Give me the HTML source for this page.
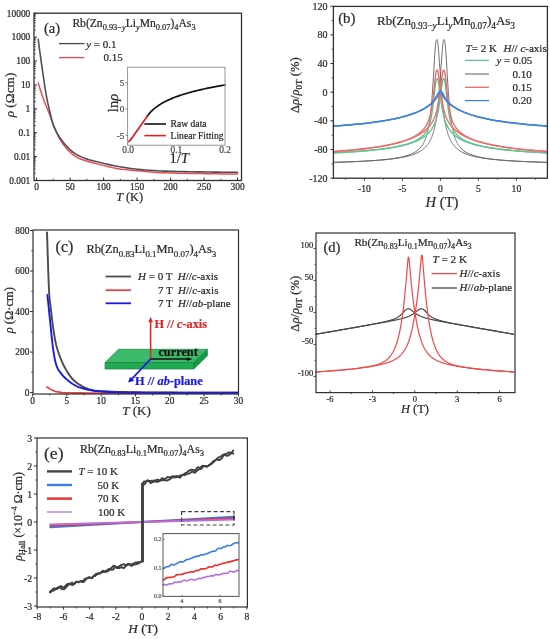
<!DOCTYPE html>
<html><head><meta charset="utf-8"><title>Figure</title>
<style>html,body{margin:0;padding:0;background:#fff;overflow:hidden;} svg{display:block;} text{white-space:pre;}</style>
</head><body>
<svg width="550" height="639" viewBox="0 0 550 639" font-family="'Liberation Serif', serif"><path d="M38.2,82.9 L38.81,84.9 L39.41,86.86 L40.02,88.78 L40.62,90.67 L41.23,92.52 L41.83,94.33 L42.44,96.11 L43.05,97.85 L43.65,99.54 L44.26,101.2 L44.86,102.78 L45.47,104.31 L46.08,105.8 L46.68,107.27 L47.29,108.74 L47.89,110.22 L48.5,111.73 L49.1,113.29 L49.71,114.91 L50.32,116.56 L50.92,118.22 L51.53,119.88 L52.13,121.52 L52.74,123.1 L53.34,124.62 L53.95,126.09 L54.56,127.56 L55.16,129.02 L55.77,130.47 L56.37,131.9 L56.98,133.29 L57.59,134.65 L58.19,135.94 L58.8,137.17 L59.4,138.33 L60.01,139.4 L60.61,140.38 L61.22,141.31 L61.83,142.21 L62.43,143.09 L63.04,143.94 L63.64,144.77 L64.25,145.57 L64.86,146.35 L65.46,147.1 L66.07,147.83 L66.67,148.54 L67.28,149.23 L67.88,149.88 L68.49,150.52 L69.1,151.13 L69.7,151.73 L70.31,152.29 L70.91,152.84 L71.52,153.36 L72.12,153.86 L72.73,154.34 L73.34,154.8 L73.94,155.25 L74.55,155.69 L75.15,156.1 L75.76,156.5 L76.37,156.89 L76.97,157.25 L77.58,157.6 L78.18,157.93 L78.79,158.24 L79.39,158.53 L80,158.8 L81,159.21 L85.02,160.58 L89.03,161.73 L93.05,162.84 L97.06,163.88 L101.08,164.86 L105.09,165.86 L109.11,166.85 L113.12,167.76 L117.14,168.55 L121.15,169.15 L125.17,169.63 L129.18,170.04 L133.2,170.41 L137.22,170.76 L141.23,171.11 L145.25,171.49 L149.26,171.86 L153.28,172.19 L157.29,172.47 L161.31,172.65 L165.32,172.8 L169.34,172.94 L173.35,173.06 L177.37,173.16 L181.38,173.26 L185.4,173.35 L189.42,173.43 L193.43,173.5 L197.45,173.56 L201.46,173.62 L205.48,173.68 L209.49,173.74 L213.51,173.79 L217.52,173.84 L221.54,173.88 L225.55,173.92 L229.57,173.95 L233.58,173.98 L237.6,174" fill="none" stroke="#ee4a52" stroke-width="1.5" stroke-linejoin="round" stroke-linecap="round" />
<path d="M38.2,39.4 L38.81,44 L39.41,48.54 L40.02,53 L40.62,57.4 L41.23,61.71 L41.83,65.94 L42.44,70.17 L43.05,74.42 L43.65,78.62 L44.26,82.73 L44.86,86.7 L45.47,90.48 L46.08,94.02 L46.68,97.28 L47.29,100.37 L47.89,103.3 L48.5,106.11 L49.1,108.8 L49.71,111.38 L50.32,113.88 L50.92,116.3 L51.53,118.68 L52.13,121.03 L52.74,123.21 L53.34,125.09 L53.95,126.63 L54.56,128.06 L55.16,129.41 L55.77,130.67 L56.37,131.85 L56.98,132.97 L57.59,134.03 L58.19,135.03 L58.8,135.99 L59.4,136.91 L60.01,137.8 L60.61,138.66 L61.22,139.5 L61.83,140.33 L62.43,141.13 L63.04,141.92 L63.64,142.69 L64.25,143.44 L64.86,144.16 L65.46,144.87 L66.07,145.56 L66.67,146.23 L67.28,146.88 L67.88,147.51 L68.49,148.12 L69.1,148.71 L69.7,149.28 L70.31,149.83 L70.91,150.36 L71.52,150.87 L72.12,151.36 L72.73,151.83 L73.34,152.29 L73.94,152.73 L74.55,153.15 L75.15,153.56 L75.76,153.95 L76.37,154.33 L76.97,154.7 L77.58,155.05 L78.18,155.38 L78.79,155.7 L79.39,156.01 L80,156.3 L81,156.76 L85.02,158.37 L89.03,159.71 L93.05,160.84 L97.06,161.82 L101.08,162.75 L105.09,163.69 L109.11,164.62 L113.12,165.5 L117.14,166.29 L121.15,166.99 L125.17,167.63 L129.18,168.22 L133.2,168.76 L137.22,169.22 L141.23,169.61 L145.25,169.96 L149.26,170.28 L153.28,170.55 L157.29,170.78 L161.31,170.95 L165.32,171.09 L169.34,171.23 L173.35,171.35 L177.37,171.45 L181.38,171.55 L185.4,171.64 L189.42,171.72 L193.43,171.79 L197.45,171.86 L201.46,171.92 L205.48,171.98 L209.49,172.04 L213.51,172.09 L217.52,172.14 L221.54,172.18 L225.55,172.22 L229.57,172.25 L233.58,172.28 L237.6,172.3" fill="none" stroke="#4a5252" stroke-width="1.6" stroke-linejoin="round" stroke-linecap="round" />
<rect x="34" y="13.2" width="207.5" height="167.3" fill="none" stroke="#303030" stroke-width="1.3" />
<line x1="34" y1="180.46" x2="37" y2="180.46" stroke="#303030" stroke-width="1" />
<line x1="34" y1="173.27" x2="35.8" y2="173.27" stroke="#303030" stroke-width="0.8" />
<line x1="34" y1="169.07" x2="35.8" y2="169.07" stroke="#303030" stroke-width="0.8" />
<line x1="34" y1="166.08" x2="35.8" y2="166.08" stroke="#303030" stroke-width="0.8" />
<line x1="34" y1="163.77" x2="35.8" y2="163.77" stroke="#303030" stroke-width="0.8" />
<line x1="34" y1="161.88" x2="35.8" y2="161.88" stroke="#303030" stroke-width="0.8" />
<line x1="34" y1="160.28" x2="35.8" y2="160.28" stroke="#303030" stroke-width="0.8" />
<line x1="34" y1="158.89" x2="35.8" y2="158.89" stroke="#303030" stroke-width="0.8" />
<line x1="34" y1="157.67" x2="35.8" y2="157.67" stroke="#303030" stroke-width="0.8" />
<line x1="34" y1="156.58" x2="37" y2="156.58" stroke="#303030" stroke-width="1" />
<line x1="34" y1="149.39" x2="35.8" y2="149.39" stroke="#303030" stroke-width="0.8" />
<line x1="34" y1="145.19" x2="35.8" y2="145.19" stroke="#303030" stroke-width="0.8" />
<line x1="34" y1="142.2" x2="35.8" y2="142.2" stroke="#303030" stroke-width="0.8" />
<line x1="34" y1="139.89" x2="35.8" y2="139.89" stroke="#303030" stroke-width="0.8" />
<line x1="34" y1="138" x2="35.8" y2="138" stroke="#303030" stroke-width="0.8" />
<line x1="34" y1="136.4" x2="35.8" y2="136.4" stroke="#303030" stroke-width="0.8" />
<line x1="34" y1="135.01" x2="35.8" y2="135.01" stroke="#303030" stroke-width="0.8" />
<line x1="34" y1="133.79" x2="35.8" y2="133.79" stroke="#303030" stroke-width="0.8" />
<line x1="34" y1="132.7" x2="37" y2="132.7" stroke="#303030" stroke-width="1" />
<line x1="34" y1="125.51" x2="35.8" y2="125.51" stroke="#303030" stroke-width="0.8" />
<line x1="34" y1="121.31" x2="35.8" y2="121.31" stroke="#303030" stroke-width="0.8" />
<line x1="34" y1="118.32" x2="35.8" y2="118.32" stroke="#303030" stroke-width="0.8" />
<line x1="34" y1="116.01" x2="35.8" y2="116.01" stroke="#303030" stroke-width="0.8" />
<line x1="34" y1="114.12" x2="35.8" y2="114.12" stroke="#303030" stroke-width="0.8" />
<line x1="34" y1="112.52" x2="35.8" y2="112.52" stroke="#303030" stroke-width="0.8" />
<line x1="34" y1="111.13" x2="35.8" y2="111.13" stroke="#303030" stroke-width="0.8" />
<line x1="34" y1="109.91" x2="35.8" y2="109.91" stroke="#303030" stroke-width="0.8" />
<line x1="34" y1="108.82" x2="37" y2="108.82" stroke="#303030" stroke-width="1" />
<line x1="34" y1="101.63" x2="35.8" y2="101.63" stroke="#303030" stroke-width="0.8" />
<line x1="34" y1="97.43" x2="35.8" y2="97.43" stroke="#303030" stroke-width="0.8" />
<line x1="34" y1="94.44" x2="35.8" y2="94.44" stroke="#303030" stroke-width="0.8" />
<line x1="34" y1="92.13" x2="35.8" y2="92.13" stroke="#303030" stroke-width="0.8" />
<line x1="34" y1="90.24" x2="35.8" y2="90.24" stroke="#303030" stroke-width="0.8" />
<line x1="34" y1="88.64" x2="35.8" y2="88.64" stroke="#303030" stroke-width="0.8" />
<line x1="34" y1="87.25" x2="35.8" y2="87.25" stroke="#303030" stroke-width="0.8" />
<line x1="34" y1="86.03" x2="35.8" y2="86.03" stroke="#303030" stroke-width="0.8" />
<line x1="34" y1="84.94" x2="37" y2="84.94" stroke="#303030" stroke-width="1" />
<line x1="34" y1="77.75" x2="35.8" y2="77.75" stroke="#303030" stroke-width="0.8" />
<line x1="34" y1="73.55" x2="35.8" y2="73.55" stroke="#303030" stroke-width="0.8" />
<line x1="34" y1="70.56" x2="35.8" y2="70.56" stroke="#303030" stroke-width="0.8" />
<line x1="34" y1="68.25" x2="35.8" y2="68.25" stroke="#303030" stroke-width="0.8" />
<line x1="34" y1="66.36" x2="35.8" y2="66.36" stroke="#303030" stroke-width="0.8" />
<line x1="34" y1="64.76" x2="35.8" y2="64.76" stroke="#303030" stroke-width="0.8" />
<line x1="34" y1="63.37" x2="35.8" y2="63.37" stroke="#303030" stroke-width="0.8" />
<line x1="34" y1="62.15" x2="35.8" y2="62.15" stroke="#303030" stroke-width="0.8" />
<line x1="34" y1="61.06" x2="37" y2="61.06" stroke="#303030" stroke-width="1" />
<line x1="34" y1="53.87" x2="35.8" y2="53.87" stroke="#303030" stroke-width="0.8" />
<line x1="34" y1="49.67" x2="35.8" y2="49.67" stroke="#303030" stroke-width="0.8" />
<line x1="34" y1="46.68" x2="35.8" y2="46.68" stroke="#303030" stroke-width="0.8" />
<line x1="34" y1="44.37" x2="35.8" y2="44.37" stroke="#303030" stroke-width="0.8" />
<line x1="34" y1="42.48" x2="35.8" y2="42.48" stroke="#303030" stroke-width="0.8" />
<line x1="34" y1="40.88" x2="35.8" y2="40.88" stroke="#303030" stroke-width="0.8" />
<line x1="34" y1="39.49" x2="35.8" y2="39.49" stroke="#303030" stroke-width="0.8" />
<line x1="34" y1="38.27" x2="35.8" y2="38.27" stroke="#303030" stroke-width="0.8" />
<line x1="34" y1="37.18" x2="37" y2="37.18" stroke="#303030" stroke-width="1" />
<line x1="34" y1="29.99" x2="35.8" y2="29.99" stroke="#303030" stroke-width="0.8" />
<line x1="34" y1="25.79" x2="35.8" y2="25.79" stroke="#303030" stroke-width="0.8" />
<line x1="34" y1="22.8" x2="35.8" y2="22.8" stroke="#303030" stroke-width="0.8" />
<line x1="34" y1="20.49" x2="35.8" y2="20.49" stroke="#303030" stroke-width="0.8" />
<line x1="34" y1="18.6" x2="35.8" y2="18.6" stroke="#303030" stroke-width="0.8" />
<line x1="34" y1="17" x2="35.8" y2="17" stroke="#303030" stroke-width="0.8" />
<line x1="34" y1="15.61" x2="35.8" y2="15.61" stroke="#303030" stroke-width="0.8" />
<line x1="34" y1="14.39" x2="35.8" y2="14.39" stroke="#303030" stroke-width="0.8" />
<line x1="34" y1="13.3" x2="37" y2="13.3" stroke="#303030" stroke-width="1" />
<text x="30.3" y="183.76" font-size="9.4" fill="#2a2a2a" stroke="#2a2a2a" stroke-width="0.22" text-anchor="end" >0.001</text>
<text x="30.3" y="159.88" font-size="9.4" fill="#2a2a2a" stroke="#2a2a2a" stroke-width="0.22" text-anchor="end" >0.01</text>
<text x="30.3" y="136" font-size="9.4" fill="#2a2a2a" stroke="#2a2a2a" stroke-width="0.22" text-anchor="end" >0.1</text>
<text x="30.3" y="112.12" font-size="9.4" fill="#2a2a2a" stroke="#2a2a2a" stroke-width="0.22" text-anchor="end" >1</text>
<text x="30.3" y="88.24" font-size="9.4" fill="#2a2a2a" stroke="#2a2a2a" stroke-width="0.22" text-anchor="end" >10</text>
<text x="30.3" y="64.36" font-size="9.4" fill="#2a2a2a" stroke="#2a2a2a" stroke-width="0.22" text-anchor="end" >100</text>
<text x="30.3" y="40.48" font-size="9.4" fill="#2a2a2a" stroke="#2a2a2a" stroke-width="0.22" text-anchor="end" >1000</text>
<text x="30.3" y="16.6" font-size="9.4" fill="#2a2a2a" stroke="#2a2a2a" stroke-width="0.22" text-anchor="end" >10000</text>
<line x1="36.6" y1="180.5" x2="36.6" y2="177.5" stroke="#303030" stroke-width="1" />
<text x="36.6" y="189.6" font-size="9.4" fill="#2a2a2a" stroke="#2a2a2a" stroke-width="0.22" text-anchor="middle" >0</text>
<line x1="70.1" y1="180.5" x2="70.1" y2="177.5" stroke="#303030" stroke-width="1" />
<text x="70.1" y="189.6" font-size="9.4" fill="#2a2a2a" stroke="#2a2a2a" stroke-width="0.22" text-anchor="middle" >50</text>
<line x1="103.6" y1="180.5" x2="103.6" y2="177.5" stroke="#303030" stroke-width="1" />
<text x="103.6" y="189.6" font-size="9.4" fill="#2a2a2a" stroke="#2a2a2a" stroke-width="0.22" text-anchor="middle" >100</text>
<line x1="137.1" y1="180.5" x2="137.1" y2="177.5" stroke="#303030" stroke-width="1" />
<text x="137.1" y="189.6" font-size="9.4" fill="#2a2a2a" stroke="#2a2a2a" stroke-width="0.22" text-anchor="middle" >150</text>
<line x1="170.6" y1="180.5" x2="170.6" y2="177.5" stroke="#303030" stroke-width="1" />
<text x="170.6" y="189.6" font-size="9.4" fill="#2a2a2a" stroke="#2a2a2a" stroke-width="0.22" text-anchor="middle" >200</text>
<line x1="204.1" y1="180.5" x2="204.1" y2="177.5" stroke="#303030" stroke-width="1" />
<text x="204.1" y="189.6" font-size="9.4" fill="#2a2a2a" stroke="#2a2a2a" stroke-width="0.22" text-anchor="middle" >250</text>
<line x1="237.6" y1="180.5" x2="237.6" y2="177.5" stroke="#303030" stroke-width="1" />
<text x="237.6" y="189.6" font-size="9.4" fill="#2a2a2a" stroke="#2a2a2a" stroke-width="0.22" text-anchor="middle" >300</text>
<line x1="53.35" y1="180.5" x2="53.35" y2="178.7" stroke="#303030" stroke-width="0.8" />
<line x1="86.85" y1="180.5" x2="86.85" y2="178.7" stroke="#303030" stroke-width="0.8" />
<line x1="120.35" y1="180.5" x2="120.35" y2="178.7" stroke="#303030" stroke-width="0.8" />
<line x1="153.85" y1="180.5" x2="153.85" y2="178.7" stroke="#303030" stroke-width="0.8" />
<line x1="187.35" y1="180.5" x2="187.35" y2="178.7" stroke="#303030" stroke-width="0.8" />
<line x1="220.85" y1="180.5" x2="220.85" y2="178.7" stroke="#303030" stroke-width="0.8" />
<text x="116.2" y="201.2" font-size="12.2" fill="#2a2a2a" stroke="#2a2a2a" stroke-width="0.22" xml:space="preserve"><tspan font-size="12.2" font-style="italic">T</tspan><tspan font-size="12.2"> (K)</tspan></text>
<text x="14.2" y="95" font-size="13.3" fill="#2a2a2a" stroke="#2a2a2a" stroke-width="0.22" text-anchor="middle" transform="rotate(-90 14.2 95)" xml:space="preserve"><tspan font-size="13.3" font-style="italic">ρ</tspan><tspan font-size="13.3"> (Ωcm)</tspan></text>
<text x="44" y="32.8" font-size="14.6" fill="#2a2a2a" stroke="#2a2a2a" stroke-width="0.22" >(a)</text>
<text x="72.4" y="27.2" font-size="11.6" fill="#2a2a2a" stroke="#2a2a2a" stroke-width="0.22" xml:space="preserve"><tspan font-size="11.6">Rb(Zn</tspan><tspan font-size="8.35" dy="3.25">0.93−</tspan><tspan font-size="8.35" font-style="italic">y</tspan><tspan font-size="11.6" dy="-3.25">Li</tspan><tspan font-size="8.35" dy="3.25" font-style="italic">y</tspan><tspan font-size="11.6" dy="-3.25">Mn</tspan><tspan font-size="8.35" dy="3.25">0.07</tspan><tspan font-size="11.6" dy="-3.25">)</tspan><tspan font-size="8.35" dy="3.25">4</tspan><tspan font-size="11.6" dy="-3.25">As</tspan><tspan font-size="8.35" dy="3.25">3</tspan></text>
<line x1="59" y1="43.6" x2="84.4" y2="43.6" stroke="#4a4a4a" stroke-width="1.3" />
<text x="86.2" y="47.6" font-size="11" fill="#2a2a2a" stroke="#2a2a2a" stroke-width="0.22" xml:space="preserve"><tspan font-size="11" font-style="italic">y</tspan><tspan font-size="11"> = 0.1</tspan></text>
<line x1="59" y1="57.6" x2="84.4" y2="57.6" stroke="#e8464c" stroke-width="1.3" />
<text x="103.6" y="60.6" font-size="11" fill="#2a2a2a" stroke="#2a2a2a" stroke-width="0.22" >0.15</text>
<path d="M147,116.5 L148.32,114.72 L149.64,113.13 L150.97,111.7 L152.29,110.4 L153.61,109.21 L154.93,108.1 L156.25,107.07 L157.58,106.11 L158.9,105.21 L160.22,104.36 L161.54,103.56 L162.86,102.8 L164.19,102.08 L165.51,101.39 L166.83,100.73 L168.15,100.11 L169.47,99.5 L170.8,98.92 L172.12,98.37 L173.44,97.83 L174.76,97.31 L176.08,96.81 L177.41,96.33 L178.73,95.86 L180.05,95.41 L181.37,94.97 L182.69,94.54 L184.02,94.13 L185.34,93.72 L186.66,93.33 L187.98,92.95 L189.31,92.58 L190.63,92.21 L191.95,91.86 L193.27,91.51 L194.59,91.18 L195.92,90.85 L197.24,90.52 L198.56,90.21 L199.88,89.9 L201.2,89.6 L202.53,89.3 L203.85,89.01 L205.17,88.72 L206.49,88.44 L207.81,88.17 L209.14,87.9 L210.46,87.64 L211.78,87.38 L213.1,87.12 L214.42,86.87 L215.75,86.62 L217.07,86.38 L218.39,86.14 L219.71,85.91 L221.03,85.68 L222.36,85.45 L223.68,85.23 L225,85" fill="none" stroke="#111" stroke-width="1.7" stroke-linejoin="round" stroke-linecap="round" />
<path d="M128.6,141.6 L130,140.4 L133,136.6 L140,126.6 L147.3,116.2" fill="none" stroke="#e02020" stroke-width="1.7" stroke-linejoin="round" stroke-linecap="round" />
<rect x="127.6" y="67.2" width="97.4" height="78" fill="none" stroke="#8a8a8a" stroke-width="0.9" />
<line x1="127.6" y1="82.65" x2="125.6" y2="82.65" stroke="#666" stroke-width="0.8" />
<text x="124.4" y="85.85" font-size="9.2" fill="#4a4a4a" stroke="#4a4a4a" stroke-width="0.22" text-anchor="end" >5</text>
<line x1="127.6" y1="109" x2="125.6" y2="109" stroke="#666" stroke-width="0.8" />
<text x="124.4" y="112.2" font-size="9.2" fill="#4a4a4a" stroke="#4a4a4a" stroke-width="0.22" text-anchor="end" >0</text>
<line x1="127.6" y1="135.35" x2="125.6" y2="135.35" stroke="#666" stroke-width="0.8" />
<text x="124.4" y="138.55" font-size="9.2" fill="#4a4a4a" stroke="#4a4a4a" stroke-width="0.22" text-anchor="end" >-5</text>
<text x="128.1" y="153.2" font-size="9.4" fill="#4a4a4a" stroke="#4a4a4a" stroke-width="0.22" text-anchor="middle" >0.0</text>
<text x="176.3" y="153.2" font-size="9.4" fill="#4a4a4a" stroke="#4a4a4a" stroke-width="0.22" text-anchor="middle" >0.1</text>
<text x="225" y="153.2" font-size="9.4" fill="#4a4a4a" stroke="#4a4a4a" stroke-width="0.22" text-anchor="middle" >0.2</text>
<text x="118.4" y="103" font-size="14.5" fill="#2a2a2a" stroke="#2a2a2a" stroke-width="0.22" text-anchor="middle" transform="rotate(-90 118.4 103)" xml:space="preserve"><tspan font-size="14.5">ln</tspan><tspan font-size="14.5" font-style="italic">ρ</tspan></text>
<text x="169.4" y="163" font-size="14.5" fill="#2a2a2a" stroke="#2a2a2a" stroke-width="0.22" xml:space="preserve"><tspan font-size="14.5">1/</tspan><tspan font-size="14.5" font-style="italic">T</tspan></text>
<line x1="144.4" y1="124" x2="166" y2="124" stroke="#111" stroke-width="1.6" />
<text x="170.6" y="127.4" font-size="9.6" fill="#2a2a2a" stroke="#2a2a2a" stroke-width="0.22" >Raw data</text>
<line x1="144.4" y1="135.6" x2="166" y2="135.6" stroke="#e02020" stroke-width="1.6" />
<text x="170.6" y="139" font-size="9.6" fill="#2a2a2a" stroke="#2a2a2a" stroke-width="0.22" >Linear Fitting</text>
<path d="M333.39,162.35 L335.59,162.28 L337.79,162.22 L339.99,162.15 L342.19,162.08 L344.39,162 L346.59,161.92 L348.79,161.84 L350.99,161.75 L353.19,161.66 L355.39,161.57 L357.59,161.46 L359.79,161.36 L361.99,161.25 L364.19,161.13 L366.39,161 L368.6,160.87 L370.8,160.73 L373,160.58 L375.2,160.42 L377.4,160.25 L379.6,160.06 L381.8,159.86 L384,159.65 L386.2,159.42 L388.4,159.17 L390.6,158.89 L392.8,158.59 L395,158.26 L397.2,157.89 L399.4,157.48 L401.6,157.02 L403.8,156.5 L406,155.9 L408.2,155.21 L410.4,154.39 L412.6,153.43 L414.8,152.25 L417,150.79 L419.2,148.93 L421.4,146.45 L421.53,146.28 L421.65,146.11 L421.78,145.94 L421.91,145.76 L422.03,145.58 L422.16,145.39 L422.29,145.2 L422.41,145.01 L422.54,144.82 L422.67,144.62 L422.79,144.41 L422.92,144.2 L423.05,143.99 L423.17,143.77 L423.3,143.55 L423.43,143.32 L423.55,143.09 L423.68,142.86 L423.81,142.61 L423.93,142.37 L424.06,142.11 L424.19,141.85 L424.31,141.59 L424.44,141.32 L424.57,141.04 L424.69,140.75 L424.82,140.46 L424.95,140.17 L425.07,139.86 L425.2,139.55 L425.33,139.22 L425.45,138.9 L425.58,138.56 L425.71,138.21 L425.83,137.86 L425.96,137.49 L426.09,137.12 L426.21,136.73 L426.34,136.34 L426.47,135.93 L426.59,135.51 L426.72,135.09 L426.85,134.64 L426.97,134.19 L427.1,133.72 L427.23,133.25 L427.35,132.75 L427.48,132.24 L427.61,131.72 L427.73,131.18 L427.86,130.63 L427.99,130.05 L428.11,129.46 L428.24,128.85 L428.37,128.23 L428.49,127.58 L428.62,126.91 L428.75,126.22 L428.87,125.51 L429,124.78 L429.13,124.02 L429.25,123.24 L429.38,122.43 L429.51,121.59 L429.63,120.73 L429.76,119.84 L429.89,118.91 L430.01,117.96 L430.14,116.97 L430.27,115.95 L430.39,114.9 L430.52,113.81 L430.65,112.68 L430.77,111.51 L430.9,110.31 L431.03,109.06 L431.15,107.77 L431.28,106.44 L431.41,105.07 L431.53,103.65 L431.66,102.18 L431.79,100.67 L431.91,99.11 L432.04,97.5 L432.17,95.85 L432.29,94.14 L432.42,92.39 L432.55,90.59 L432.67,88.75 L432.8,86.86 L432.93,84.93 L433.05,82.95 L433.18,80.94 L433.31,78.89 L433.43,76.81 L433.56,74.71 L433.69,72.59 L433.81,70.45 L433.94,68.31 L434.07,66.17 L434.19,64.04 L434.32,61.93 L434.45,59.85 L434.57,57.82 L434.7,55.84 L434.83,53.92 L434.95,52.09 L435.08,50.35 L435.21,48.71 L435.33,47.19 L435.46,45.8 L435.59,44.55 L435.71,43.45 L435.84,42.51 L435.97,41.73 L436.09,41.11 L436.22,40.64 L436.35,40.31 L436.47,40.08 L436.6,39.88 L436.73,39.69 L436.85,39.54 L436.98,39.48 L437.11,39.56 L437.23,39.8 L437.36,40.19 L437.49,40.75 L437.61,41.46 L437.74,42.32 L437.87,43.31 L437.99,44.44 L438.12,45.68 L438.25,47.02 L438.37,48.45 L438.5,49.97 L438.63,51.54 L438.75,53.17 L438.88,54.83 L439.01,56.53 L439.13,58.24 L439.26,59.96 L439.39,61.68 L439.51,63.39 L439.64,65.08 L439.77,66.75 L439.89,68.38 L440.02,69.98 L440.15,71.54 L440.27,73.06 L440.4,74.53 L440.53,76.64 L440.65,78.69 L440.78,80.7 L440.91,82.65 L441.03,84.55 L441.16,86.39 L441.29,88.18 L441.41,89.92 L441.54,91.61 L441.67,93.25 L441.79,94.83 L441.92,96.37 L442.05,97.86 L442.17,99.31 L442.3,100.7 L442.43,102.06 L442.55,103.37 L442.68,104.64 L442.81,105.86 L442.93,107.05 L443.06,108.2 L443.19,109.32 L443.31,110.4 L443.44,111.45 L443.57,112.46 L443.69,113.44 L443.82,114.39 L443.95,115.31 L444.07,116.21 L444.2,117.07 L444.33,117.91 L444.45,118.73 L444.58,119.52 L444.71,120.29 L444.83,121.03 L444.96,121.75 L445.09,122.46 L445.21,123.14 L445.34,123.8 L445.47,124.44 L445.59,125.07 L445.72,125.68 L445.85,126.27 L445.97,126.84 L446.1,127.4 L446.23,127.95 L446.35,128.48 L446.48,128.99 L446.61,129.5 L446.73,129.99 L446.86,130.46 L446.99,130.93 L447.11,131.38 L447.24,131.83 L447.37,132.26 L447.49,132.68 L447.62,133.09 L447.75,133.49 L447.87,133.88 L448,134.26 L448.13,134.64 L448.25,135 L448.38,135.36 L448.51,135.71 L448.63,136.05 L448.76,136.38 L448.89,136.7 L449.01,137.02 L449.14,137.33 L449.27,137.64 L449.39,137.94 L449.52,138.23 L449.65,138.51 L449.77,138.79 L449.9,139.07 L450.03,139.34 L450.15,139.6 L450.28,139.86 L450.41,140.11 L450.53,140.36 L450.66,140.6 L450.79,140.84 L450.91,141.08 L451.04,141.3 L451.17,141.53 L451.29,141.75 L451.42,141.97 L451.55,142.18 L451.67,142.39 L451.8,142.6 L451.93,142.8 L452.05,142.99 L452.18,143.19 L452.31,143.38 L452.43,143.57 L452.56,143.75 L452.69,143.93 L452.81,144.11 L452.94,144.29 L453.07,144.46 L453.19,144.63 L453.32,144.8 L453.45,144.96 L453.57,145.12 L453.7,145.28 L453.83,145.44 L453.95,145.59 L454.08,145.75 L454.21,145.89 L454.33,146.04 L454.46,146.19 L454.59,146.33 L454.71,146.47 L454.84,146.61 L454.97,146.74 L455.09,146.88 L455.22,147.01 L455.35,147.14 L455.47,147.27 L455.6,147.4 L455.73,147.52 L455.85,147.64 L455.98,147.77 L456.11,147.89 L456.23,148 L456.36,148.12 L456.49,148.24 L456.61,148.35 L456.74,148.46 L456.87,148.57 L456.99,148.68 L457.12,148.79 L457.25,148.89 L457.37,149 L457.5,149.1 L457.63,149.2 L457.75,149.3 L457.88,149.4 L458.01,149.5 L458.13,149.6 L458.26,149.69 L458.39,149.79 L458.51,149.88 L458.64,149.98 L458.77,150.07 L458.89,150.16 L459.02,150.25 L459.15,150.33 L459.27,150.42 L459.4,150.51 L461.66,151.88 L463.91,153.02 L466.17,153.98 L468.43,154.8 L470.68,155.51 L472.94,156.13 L475.2,156.67 L477.45,157.15 L479.71,157.59 L481.97,157.98 L484.22,158.33 L486.48,158.65 L488.74,158.94 L490.99,159.21 L493.25,159.45 L495.51,159.68 L497.76,159.89 L500.02,160.09 L502.28,160.27 L504.53,160.44 L506.79,160.6 L509.05,160.75 L511.3,160.89 L513.56,161.02 L515.82,161.15 L518.07,161.27 L520.33,161.38 L522.59,161.49 L524.84,161.59 L527.1,161.68 L529.36,161.77 L531.61,161.86 L533.87,161.94 L536.12,162.02 L538.38,162.1 L540.64,162.17 L542.89,162.24 L545.15,162.31 L547.41,162.37" fill="none" stroke="#6a6a6a" stroke-width="1.0" stroke-linejoin="round" stroke-linecap="round" />
<path d="M333.39,162.37 L335.59,162.31 L337.79,162.24 L339.99,162.17 L342.19,162.1 L344.39,162.03 L346.59,161.95 L348.79,161.87 L350.99,161.79 L353.19,161.7 L355.39,161.61 L357.59,161.51 L359.79,161.41 L361.99,161.3 L364.19,161.19 L366.39,161.07 L368.6,160.95 L370.8,160.81 L373,160.67 L375.2,160.52 L377.4,160.36 L379.6,160.19 L381.8,160 L384,159.8 L386.2,159.59 L388.4,159.36 L390.6,159.12 L392.8,158.85 L395,158.55 L397.2,158.23 L399.4,157.88 L401.6,157.49 L403.8,157.06 L406,156.58 L408.2,156.04 L410.4,155.43 L412.6,154.72 L414.8,153.92 L417,152.97 L419.2,151.85 L421.4,150.51 L421.53,150.42 L421.65,150.33 L421.78,150.25 L421.91,150.16 L422.03,150.07 L422.16,149.98 L422.29,149.88 L422.41,149.79 L422.54,149.69 L422.67,149.6 L422.79,149.5 L422.92,149.4 L423.05,149.3 L423.17,149.2 L423.3,149.1 L423.43,149 L423.55,148.89 L423.68,148.79 L423.81,148.68 L423.93,148.57 L424.06,148.46 L424.19,148.35 L424.31,148.24 L424.44,148.12 L424.57,148 L424.69,147.89 L424.82,147.77 L424.95,147.64 L425.07,147.52 L425.2,147.4 L425.33,147.27 L425.45,147.14 L425.58,147.01 L425.71,146.88 L425.83,146.74 L425.96,146.61 L426.09,146.47 L426.21,146.33 L426.34,146.19 L426.47,146.04 L426.59,145.89 L426.72,145.75 L426.85,145.59 L426.97,145.44 L427.1,145.28 L427.23,145.12 L427.35,144.96 L427.48,144.8 L427.61,144.63 L427.73,144.46 L427.86,144.29 L427.99,144.11 L428.11,143.93 L428.24,143.75 L428.37,143.57 L428.49,143.38 L428.62,143.19 L428.75,142.99 L428.87,142.8 L429,142.6 L429.13,142.39 L429.25,142.18 L429.38,141.97 L429.51,141.75 L429.63,141.53 L429.76,141.3 L429.89,141.08 L430.01,140.84 L430.14,140.6 L430.27,140.36 L430.39,140.11 L430.52,139.86 L430.65,139.6 L430.77,139.34 L430.9,139.07 L431.03,138.79 L431.15,138.51 L431.28,138.23 L431.41,137.94 L431.53,137.64 L431.66,137.33 L431.79,137.02 L431.91,136.7 L432.04,136.38 L432.17,136.05 L432.29,135.71 L432.42,135.36 L432.55,135 L432.67,134.64 L432.8,134.26 L432.93,133.88 L433.05,133.49 L433.18,133.09 L433.31,132.68 L433.43,132.26 L433.56,131.83 L433.69,131.38 L433.81,130.93 L433.94,130.46 L434.07,129.99 L434.19,129.5 L434.32,128.99 L434.45,128.48 L434.57,127.95 L434.7,127.4 L434.83,126.84 L434.95,126.27 L435.08,125.68 L435.21,125.07 L435.33,124.44 L435.46,123.8 L435.59,123.14 L435.71,122.46 L435.84,121.75 L435.97,121.03 L436.09,120.29 L436.22,119.52 L436.35,118.73 L436.47,117.91 L436.6,117.07 L436.73,116.21 L436.85,115.31 L436.98,114.39 L437.11,113.44 L437.23,112.46 L437.36,111.45 L437.49,110.4 L437.61,109.32 L437.74,108.2 L437.87,107.05 L437.99,105.86 L438.12,104.64 L438.25,103.37 L438.37,102.06 L438.5,100.7 L438.63,99.31 L438.75,97.86 L438.88,96.37 L439.01,94.83 L439.13,93.25 L439.26,91.61 L439.39,89.92 L439.51,88.18 L439.64,86.39 L439.77,84.55 L439.89,82.65 L440.02,80.7 L440.15,78.69 L440.27,76.64 L440.4,74.53 L440.53,73.06 L440.65,71.54 L440.78,69.98 L440.91,68.38 L441.03,66.75 L441.16,65.08 L441.29,63.39 L441.41,61.68 L441.54,59.96 L441.67,58.24 L441.79,56.53 L441.92,54.83 L442.05,53.17 L442.17,51.54 L442.3,49.97 L442.43,48.45 L442.55,47.02 L442.68,45.68 L442.81,44.44 L442.93,43.31 L443.06,42.32 L443.19,41.46 L443.31,40.75 L443.44,40.19 L443.57,39.8 L443.69,39.56 L443.82,39.48 L443.95,39.54 L444.07,39.69 L444.2,39.88 L444.33,40.08 L444.45,40.31 L444.58,40.64 L444.71,41.11 L444.83,41.73 L444.96,42.51 L445.09,43.45 L445.21,44.55 L445.34,45.8 L445.47,47.19 L445.59,48.71 L445.72,50.35 L445.85,52.09 L445.97,53.92 L446.1,55.84 L446.23,57.82 L446.35,59.85 L446.48,61.93 L446.61,64.04 L446.73,66.17 L446.86,68.31 L446.99,70.45 L447.11,72.59 L447.24,74.71 L447.37,76.81 L447.49,78.89 L447.62,80.94 L447.75,82.95 L447.87,84.93 L448,86.86 L448.13,88.75 L448.25,90.59 L448.38,92.39 L448.51,94.14 L448.63,95.85 L448.76,97.5 L448.89,99.11 L449.01,100.67 L449.14,102.18 L449.27,103.65 L449.39,105.07 L449.52,106.44 L449.65,107.77 L449.77,109.06 L449.9,110.31 L450.03,111.51 L450.15,112.68 L450.28,113.81 L450.41,114.9 L450.53,115.95 L450.66,116.97 L450.79,117.96 L450.91,118.91 L451.04,119.84 L451.17,120.73 L451.29,121.59 L451.42,122.43 L451.55,123.24 L451.67,124.02 L451.8,124.78 L451.93,125.51 L452.05,126.22 L452.18,126.91 L452.31,127.58 L452.43,128.23 L452.56,128.85 L452.69,129.46 L452.81,130.05 L452.94,130.63 L453.07,131.18 L453.19,131.72 L453.32,132.24 L453.45,132.75 L453.57,133.25 L453.7,133.72 L453.83,134.19 L453.95,134.64 L454.08,135.09 L454.21,135.51 L454.33,135.93 L454.46,136.34 L454.59,136.73 L454.71,137.12 L454.84,137.49 L454.97,137.86 L455.09,138.21 L455.22,138.56 L455.35,138.9 L455.47,139.22 L455.6,139.55 L455.73,139.86 L455.85,140.17 L455.98,140.46 L456.11,140.75 L456.23,141.04 L456.36,141.32 L456.49,141.59 L456.61,141.85 L456.74,142.11 L456.87,142.37 L456.99,142.61 L457.12,142.86 L457.25,143.09 L457.37,143.32 L457.5,143.55 L457.63,143.77 L457.75,143.99 L457.88,144.2 L458.01,144.41 L458.13,144.62 L458.26,144.82 L458.39,145.01 L458.51,145.2 L458.64,145.39 L458.77,145.58 L458.89,145.76 L459.02,145.94 L459.15,146.11 L459.27,146.28 L459.4,146.45 L461.66,148.98 L463.91,150.88 L466.17,152.35 L468.43,153.54 L470.68,154.51 L472.94,155.32 L475.2,156.01 L477.45,156.61 L479.71,157.13 L481.97,157.59 L484.22,158 L486.48,158.36 L488.74,158.69 L490.99,158.99 L493.25,159.27 L495.51,159.52 L497.76,159.75 L500.02,159.96 L502.28,160.15 L504.53,160.34 L506.79,160.51 L509.05,160.67 L511.3,160.81 L513.56,160.95 L515.82,161.08 L518.07,161.21 L520.33,161.33 L522.59,161.44 L524.84,161.54 L527.1,161.64 L529.36,161.73 L531.61,161.82 L533.87,161.91 L536.12,161.99 L538.38,162.07 L540.64,162.14 L542.89,162.21 L545.15,162.28 L547.41,162.35" fill="none" stroke="#6a6a6a" stroke-width="1.0" stroke-linejoin="round" stroke-linecap="round" />
<path d="M333.39,152.88 L335.59,152.77 L337.79,152.65 L339.99,152.54 L342.19,152.42 L344.39,152.29 L346.59,152.16 L348.79,152.02 L350.99,151.88 L353.19,151.73 L355.39,151.58 L357.59,151.42 L359.79,151.25 L361.99,151.07 L364.19,150.89 L366.39,150.7 L368.6,150.49 L370.8,150.28 L373,150.06 L375.2,149.82 L377.4,149.58 L379.6,149.32 L381.8,149.04 L384,148.74 L386.2,148.43 L388.4,148.1 L390.6,147.75 L392.8,147.37 L395,146.96 L397.2,146.52 L399.4,146.05 L401.6,145.53 L403.8,144.97 L406,144.36 L408.2,143.67 L410.4,142.92 L412.6,142.06 L414.8,141.09 L417,139.96 L419.2,138.63 L421.4,137 L421.53,136.9 L421.65,136.79 L421.78,136.68 L421.91,136.57 L422.03,136.46 L422.16,136.35 L422.29,136.23 L422.41,136.12 L422.54,136 L422.67,135.88 L422.79,135.76 L422.92,135.63 L423.05,135.51 L423.17,135.38 L423.3,135.25 L423.43,135.12 L423.55,134.98 L423.68,134.85 L423.81,134.71 L423.93,134.57 L424.06,134.42 L424.19,134.28 L424.31,134.13 L424.44,133.98 L424.57,133.82 L424.69,133.66 L424.82,133.5 L424.95,133.34 L425.07,133.17 L425.2,133 L425.33,132.83 L425.45,132.65 L425.58,132.47 L425.71,132.29 L425.83,132.1 L425.96,131.91 L426.09,131.71 L426.21,131.51 L426.34,131.31 L426.47,131.1 L426.59,130.88 L426.72,130.66 L426.85,130.44 L426.97,130.21 L427.1,129.97 L427.23,129.73 L427.35,129.48 L427.48,129.23 L427.61,128.97 L427.73,128.7 L427.86,128.43 L427.99,128.15 L428.11,127.86 L428.24,127.56 L428.37,127.25 L428.49,126.94 L428.62,126.62 L428.75,126.29 L428.87,125.94 L429,125.59 L429.13,125.23 L429.25,124.85 L429.38,124.47 L429.51,124.07 L429.63,123.66 L429.76,123.24 L429.89,122.8 L430.01,122.35 L430.14,121.88 L430.27,121.4 L430.39,120.9 L430.52,120.39 L430.65,119.86 L430.77,119.31 L430.9,118.74 L431.03,118.15 L431.15,117.54 L431.28,116.91 L431.41,116.26 L431.53,115.59 L431.66,114.89 L431.79,114.17 L431.91,113.42 L432.04,112.65 L432.17,111.85 L432.29,111.02 L432.42,110.17 L432.55,109.29 L432.67,108.38 L432.8,107.44 L432.93,106.48 L433.05,105.48 L433.18,104.46 L433.31,103.41 L433.43,102.34 L433.56,101.24 L433.69,100.12 L433.81,98.98 L433.94,97.82 L434.07,96.65 L434.19,95.46 L434.32,94.27 L434.45,93.08 L434.57,91.89 L434.7,90.72 L434.83,89.55 L434.95,88.42 L435.08,87.31 L435.21,86.25 L435.33,85.23 L435.46,84.27 L435.59,83.38 L435.71,82.55 L435.84,81.81 L435.97,81.15 L436.09,80.58 L436.22,80.11 L436.35,79.73 L436.47,79.44 L436.6,79.22 L436.73,79.06 L436.85,78.91 L436.98,78.77 L437.11,78.66 L437.23,78.61 L437.36,78.64 L437.49,78.77 L437.61,78.99 L437.74,79.3 L437.87,79.7 L437.99,80.18 L438.12,80.74 L438.25,81.37 L438.37,82.06 L438.5,82.8 L438.63,83.59 L438.75,84.41 L438.88,85.26 L439.01,86.13 L439.13,87.02 L439.26,87.91 L439.39,88.8 L439.51,89.69 L439.64,90.57 L439.77,91.43 L439.89,92.28 L440.02,93.11 L440.15,93.92 L440.27,94.7 L440.4,95.46 L440.53,96.58 L440.65,97.67 L440.78,98.73 L440.91,99.76 L441.03,100.76 L441.16,101.74 L441.29,102.68 L441.41,103.6 L441.54,104.49 L441.67,105.35 L441.79,106.18 L441.92,106.98 L442.05,107.77 L442.17,108.52 L442.3,109.25 L442.43,109.96 L442.55,110.65 L442.68,111.31 L442.81,111.96 L442.93,112.58 L443.06,113.18 L443.19,113.77 L443.31,114.34 L443.44,114.89 L443.57,115.42 L443.69,115.94 L443.82,116.44 L443.95,116.93 L444.07,117.4 L444.2,117.86 L444.33,118.3 L444.45,118.74 L444.58,119.16 L444.71,119.57 L444.83,119.97 L444.96,120.36 L445.09,120.74 L445.21,121.11 L445.34,121.47 L445.47,121.82 L445.59,122.16 L445.72,122.49 L445.85,122.82 L445.97,123.13 L446.1,123.44 L446.23,123.75 L446.35,124.04 L446.48,124.33 L446.61,124.61 L446.73,124.89 L446.86,125.16 L446.99,125.42 L447.11,125.68 L447.24,125.94 L447.37,126.18 L447.49,126.43 L447.62,126.67 L447.75,126.9 L447.87,127.13 L448,127.35 L448.13,127.57 L448.25,127.79 L448.38,128 L448.51,128.21 L448.63,128.41 L448.76,128.61 L448.89,128.81 L449.01,129 L449.14,129.2 L449.27,129.38 L449.39,129.57 L449.52,129.75 L449.65,129.93 L449.77,130.1 L449.9,130.27 L450.03,130.44 L450.15,130.61 L450.28,130.77 L450.41,130.94 L450.53,131.1 L450.66,131.25 L450.79,131.41 L450.91,131.56 L451.04,131.71 L451.17,131.86 L451.29,132 L451.42,132.15 L451.55,132.29 L451.67,132.43 L451.8,132.57 L451.93,132.71 L452.05,132.84 L452.18,132.97 L452.31,133.1 L452.43,133.23 L452.56,133.36 L452.69,133.49 L452.81,133.61 L452.94,133.74 L453.07,133.86 L453.19,133.98 L453.32,134.1 L453.45,134.21 L453.57,134.33 L453.7,134.44 L453.83,134.56 L453.95,134.67 L454.08,134.78 L454.21,134.89 L454.33,135 L454.46,135.11 L454.59,135.21 L454.71,135.32 L454.84,135.42 L454.97,135.52 L455.09,135.62 L455.22,135.72 L455.35,135.82 L455.47,135.92 L455.6,136.02 L455.73,136.12 L455.85,136.21 L455.98,136.31 L456.11,136.4 L456.23,136.49 L456.36,136.58 L456.49,136.67 L456.61,136.76 L456.74,136.85 L456.87,136.94 L456.99,137.03 L457.12,137.12 L457.25,137.2 L457.37,137.29 L457.5,137.37 L457.63,137.45 L457.75,137.54 L457.88,137.62 L458.01,137.7 L458.13,137.78 L458.26,137.86 L458.39,137.94 L458.51,138.02 L458.64,138.1 L458.77,138.17 L458.89,138.25 L459.02,138.33 L459.15,138.4 L459.27,138.47 L459.4,138.55 L461.66,139.77 L463.91,140.84 L466.17,141.79 L468.43,142.64 L470.68,143.4 L472.94,144.09 L475.2,144.72 L477.45,145.3 L479.71,145.83 L481.97,146.32 L484.22,146.77 L486.48,147.2 L488.74,147.59 L490.99,147.96 L493.25,148.3 L495.51,148.63 L497.76,148.93 L500.02,149.22 L502.28,149.49 L504.53,149.74 L506.79,149.99 L509.05,150.22 L511.3,150.44 L513.56,150.65 L515.82,150.84 L518.07,151.03 L520.33,151.22 L522.59,151.39 L524.84,151.55 L527.1,151.71 L529.36,151.86 L531.61,152.01 L533.87,152.15 L536.12,152.28 L538.38,152.41 L540.64,152.54 L542.89,152.66 L545.15,152.77 L547.41,152.89" fill="none" stroke="#62c291" stroke-width="1.4" stroke-linejoin="round" stroke-linecap="round" />
<path d="M333.39,152.89 L335.59,152.78 L337.79,152.66 L339.99,152.55 L342.19,152.43 L344.39,152.3 L346.59,152.17 L348.79,152.03 L350.99,151.89 L353.19,151.75 L355.39,151.59 L357.59,151.43 L359.79,151.27 L361.99,151.09 L364.19,150.91 L366.39,150.72 L368.6,150.52 L370.8,150.31 L373,150.09 L375.2,149.86 L377.4,149.62 L379.6,149.36 L381.8,149.09 L384,148.8 L386.2,148.5 L388.4,148.17 L390.6,147.83 L392.8,147.46 L395,147.07 L397.2,146.65 L399.4,146.2 L401.6,145.71 L403.8,145.19 L406,144.61 L408.2,143.99 L410.4,143.31 L412.6,142.56 L414.8,141.72 L417,140.79 L419.2,139.74 L421.4,138.55 L421.53,138.47 L421.65,138.4 L421.78,138.33 L421.91,138.25 L422.03,138.17 L422.16,138.1 L422.29,138.02 L422.41,137.94 L422.54,137.86 L422.67,137.78 L422.79,137.7 L422.92,137.62 L423.05,137.54 L423.17,137.45 L423.3,137.37 L423.43,137.29 L423.55,137.2 L423.68,137.12 L423.81,137.03 L423.93,136.94 L424.06,136.85 L424.19,136.76 L424.31,136.67 L424.44,136.58 L424.57,136.49 L424.69,136.4 L424.82,136.31 L424.95,136.21 L425.07,136.12 L425.2,136.02 L425.33,135.92 L425.45,135.82 L425.58,135.72 L425.71,135.62 L425.83,135.52 L425.96,135.42 L426.09,135.32 L426.21,135.21 L426.34,135.11 L426.47,135 L426.59,134.89 L426.72,134.78 L426.85,134.67 L426.97,134.56 L427.1,134.44 L427.23,134.33 L427.35,134.21 L427.48,134.1 L427.61,133.98 L427.73,133.86 L427.86,133.74 L427.99,133.61 L428.11,133.49 L428.24,133.36 L428.37,133.23 L428.49,133.1 L428.62,132.97 L428.75,132.84 L428.87,132.71 L429,132.57 L429.13,132.43 L429.25,132.29 L429.38,132.15 L429.51,132 L429.63,131.86 L429.76,131.71 L429.89,131.56 L430.01,131.41 L430.14,131.25 L430.27,131.1 L430.39,130.94 L430.52,130.77 L430.65,130.61 L430.77,130.44 L430.9,130.27 L431.03,130.1 L431.15,129.93 L431.28,129.75 L431.41,129.57 L431.53,129.38 L431.66,129.2 L431.79,129 L431.91,128.81 L432.04,128.61 L432.17,128.41 L432.29,128.21 L432.42,128 L432.55,127.79 L432.67,127.57 L432.8,127.35 L432.93,127.13 L433.05,126.9 L433.18,126.67 L433.31,126.43 L433.43,126.18 L433.56,125.94 L433.69,125.68 L433.81,125.42 L433.94,125.16 L434.07,124.89 L434.19,124.61 L434.32,124.33 L434.45,124.04 L434.57,123.75 L434.7,123.44 L434.83,123.13 L434.95,122.82 L435.08,122.49 L435.21,122.16 L435.33,121.82 L435.46,121.47 L435.59,121.11 L435.71,120.74 L435.84,120.36 L435.97,119.97 L436.09,119.57 L436.22,119.16 L436.35,118.74 L436.47,118.3 L436.6,117.86 L436.73,117.4 L436.85,116.93 L436.98,116.44 L437.11,115.94 L437.23,115.42 L437.36,114.89 L437.49,114.34 L437.61,113.77 L437.74,113.18 L437.87,112.58 L437.99,111.96 L438.12,111.31 L438.25,110.65 L438.37,109.96 L438.5,109.25 L438.63,108.52 L438.75,107.77 L438.88,106.98 L439.01,106.18 L439.13,105.35 L439.26,104.49 L439.39,103.6 L439.51,102.68 L439.64,101.74 L439.77,100.76 L439.89,99.76 L440.02,98.73 L440.15,97.67 L440.27,96.58 L440.4,95.46 L440.53,94.7 L440.65,93.92 L440.78,93.11 L440.91,92.28 L441.03,91.43 L441.16,90.57 L441.29,89.69 L441.41,88.8 L441.54,87.91 L441.67,87.02 L441.79,86.13 L441.92,85.26 L442.05,84.41 L442.17,83.59 L442.3,82.8 L442.43,82.06 L442.55,81.37 L442.68,80.74 L442.81,80.18 L442.93,79.7 L443.06,79.3 L443.19,78.99 L443.31,78.77 L443.44,78.64 L443.57,78.61 L443.69,78.66 L443.82,78.77 L443.95,78.91 L444.07,79.06 L444.2,79.22 L444.33,79.44 L444.45,79.73 L444.58,80.11 L444.71,80.58 L444.83,81.15 L444.96,81.81 L445.09,82.55 L445.21,83.38 L445.34,84.27 L445.47,85.23 L445.59,86.25 L445.72,87.31 L445.85,88.42 L445.97,89.55 L446.1,90.72 L446.23,91.89 L446.35,93.08 L446.48,94.27 L446.61,95.46 L446.73,96.65 L446.86,97.82 L446.99,98.98 L447.11,100.12 L447.24,101.24 L447.37,102.34 L447.49,103.41 L447.62,104.46 L447.75,105.48 L447.87,106.48 L448,107.44 L448.13,108.38 L448.25,109.29 L448.38,110.17 L448.51,111.02 L448.63,111.85 L448.76,112.65 L448.89,113.42 L449.01,114.17 L449.14,114.89 L449.27,115.59 L449.39,116.26 L449.52,116.91 L449.65,117.54 L449.77,118.15 L449.9,118.74 L450.03,119.31 L450.15,119.86 L450.28,120.39 L450.41,120.9 L450.53,121.4 L450.66,121.88 L450.79,122.35 L450.91,122.8 L451.04,123.24 L451.17,123.66 L451.29,124.07 L451.42,124.47 L451.55,124.85 L451.67,125.23 L451.8,125.59 L451.93,125.94 L452.05,126.29 L452.18,126.62 L452.31,126.94 L452.43,127.25 L452.56,127.56 L452.69,127.86 L452.81,128.15 L452.94,128.43 L453.07,128.7 L453.19,128.97 L453.32,129.23 L453.45,129.48 L453.57,129.73 L453.7,129.97 L453.83,130.21 L453.95,130.44 L454.08,130.66 L454.21,130.88 L454.33,131.1 L454.46,131.31 L454.59,131.51 L454.71,131.71 L454.84,131.91 L454.97,132.1 L455.09,132.29 L455.22,132.47 L455.35,132.65 L455.47,132.83 L455.6,133 L455.73,133.17 L455.85,133.34 L455.98,133.5 L456.11,133.66 L456.23,133.82 L456.36,133.98 L456.49,134.13 L456.61,134.28 L456.74,134.42 L456.87,134.57 L456.99,134.71 L457.12,134.85 L457.25,134.98 L457.37,135.12 L457.5,135.25 L457.63,135.38 L457.75,135.51 L457.88,135.63 L458.01,135.76 L458.13,135.88 L458.26,136 L458.39,136.12 L458.51,136.23 L458.64,136.35 L458.77,136.46 L458.89,136.57 L459.02,136.68 L459.15,136.79 L459.27,136.9 L459.4,137 L461.66,138.67 L463.91,140.03 L466.17,141.17 L468.43,142.16 L470.68,143.02 L472.94,143.78 L475.2,144.47 L477.45,145.09 L479.71,145.66 L481.97,146.17 L484.22,146.65 L486.48,147.09 L488.74,147.5 L490.99,147.88 L493.25,148.23 L495.51,148.56 L497.76,148.87 L500.02,149.17 L502.28,149.44 L504.53,149.71 L506.79,149.95 L509.05,150.19 L511.3,150.41 L513.56,150.62 L515.82,150.82 L518.07,151.01 L520.33,151.2 L522.59,151.37 L524.84,151.54 L527.1,151.7 L529.36,151.85 L531.61,152 L533.87,152.14 L536.12,152.27 L538.38,152.4 L540.64,152.53 L542.89,152.65 L545.15,152.77 L547.41,152.88" fill="none" stroke="#62c291" stroke-width="1.4" stroke-linejoin="round" stroke-linecap="round" />
<path d="M333.39,151.56 L335.59,151.4 L337.79,151.23 L339.99,151.07 L342.19,150.89 L344.39,150.71 L346.59,150.52 L348.79,150.33 L350.99,150.13 L353.19,149.92 L355.39,149.7 L357.59,149.47 L359.79,149.24 L361.99,148.99 L364.19,148.73 L366.39,148.47 L368.6,148.19 L370.8,147.89 L373,147.59 L375.2,147.27 L377.4,146.93 L379.6,146.57 L381.8,146.2 L384,145.81 L386.2,145.39 L388.4,144.95 L390.6,144.49 L392.8,143.99 L395,143.46 L397.2,142.9 L399.4,142.29 L401.6,141.64 L403.8,140.93 L406,140.17 L408.2,139.33 L410.4,138.41 L412.6,137.39 L414.8,136.24 L417,134.93 L419.2,133.4 L421.4,131.57 L421.53,131.45 L421.65,131.34 L421.78,131.21 L421.91,131.09 L422.03,130.97 L422.16,130.84 L422.29,130.72 L422.41,130.59 L422.54,130.46 L422.67,130.32 L422.79,130.19 L422.92,130.05 L423.05,129.91 L423.17,129.77 L423.3,129.63 L423.43,129.49 L423.55,129.34 L423.68,129.19 L423.81,129.04 L423.93,128.88 L424.06,128.72 L424.19,128.56 L424.31,128.4 L424.44,128.24 L424.57,128.07 L424.69,127.9 L424.82,127.72 L424.95,127.55 L425.07,127.36 L425.2,127.18 L425.33,126.99 L425.45,126.8 L425.58,126.61 L425.71,126.41 L425.83,126.2 L425.96,126 L426.09,125.78 L426.21,125.57 L426.34,125.35 L426.47,125.12 L426.59,124.89 L426.72,124.66 L426.85,124.41 L426.97,124.17 L427.1,123.92 L427.23,123.66 L427.35,123.39 L427.48,123.12 L427.61,122.84 L427.73,122.56 L427.86,122.26 L427.99,121.96 L428.11,121.66 L428.24,121.34 L428.37,121.01 L428.49,120.68 L428.62,120.34 L428.75,119.98 L428.87,119.62 L429,119.25 L429.13,118.86 L429.25,118.46 L429.38,118.06 L429.51,117.64 L429.63,117.2 L429.76,116.75 L429.89,116.29 L430.01,115.82 L430.14,115.32 L430.27,114.82 L430.39,114.29 L430.52,113.75 L430.65,113.19 L430.77,112.61 L430.9,112.01 L431.03,111.39 L431.15,110.75 L431.28,110.09 L431.41,109.4 L431.53,108.69 L431.66,107.96 L431.79,107.2 L431.91,106.41 L432.04,105.6 L432.17,104.76 L432.29,103.89 L432.42,103 L432.55,102.07 L432.67,101.12 L432.8,100.13 L432.93,99.12 L433.05,98.07 L433.18,97 L433.31,95.9 L433.43,94.78 L433.56,93.62 L433.69,92.45 L433.81,91.25 L433.94,90.04 L434.07,88.81 L434.19,87.57 L434.32,86.32 L434.45,85.07 L434.57,83.83 L434.7,82.59 L434.83,81.38 L434.95,80.19 L435.08,79.04 L435.21,77.92 L435.33,76.86 L435.46,75.86 L435.59,74.92 L435.71,74.06 L435.84,73.29 L435.97,72.6 L436.09,72.01 L436.22,71.52 L436.35,71.13 L436.47,70.83 L436.6,70.62 L436.73,70.46 L436.85,70.31 L436.98,70.17 L437.11,70.06 L437.23,70.02 L437.36,70.07 L437.49,70.22 L437.61,70.46 L437.74,70.8 L437.87,71.23 L437.99,71.75 L438.12,72.36 L438.25,73.03 L438.37,73.77 L438.5,74.57 L438.63,75.41 L438.75,76.29 L438.88,77.2 L439.01,78.13 L439.13,79.08 L439.26,80.03 L439.39,80.99 L439.51,81.94 L439.64,82.89 L439.77,83.82 L439.89,84.73 L440.02,85.63 L440.15,86.5 L440.27,87.34 L440.4,88.16 L440.53,89.31 L440.65,90.43 L440.78,91.53 L440.91,92.59 L441.03,93.62 L441.16,94.62 L441.29,95.59 L441.41,96.53 L441.54,97.44 L441.67,98.33 L441.79,99.18 L441.92,100.01 L442.05,100.82 L442.17,101.59 L442.3,102.35 L442.43,103.08 L442.55,103.78 L442.68,104.46 L442.81,105.13 L442.93,105.77 L443.06,106.39 L443.19,106.99 L443.31,107.57 L443.44,108.14 L443.57,108.69 L443.69,109.22 L443.82,109.74 L443.95,110.24 L444.07,110.73 L444.2,111.2 L444.33,111.66 L444.45,112.11 L444.58,112.54 L444.71,112.97 L444.83,113.38 L444.96,113.78 L445.09,114.17 L445.21,114.55 L445.34,114.92 L445.47,115.29 L445.59,115.64 L445.72,115.99 L445.85,116.32 L445.97,116.65 L446.1,116.97 L446.23,117.29 L446.35,117.59 L446.48,117.89 L446.61,118.19 L446.73,118.47 L446.86,118.75 L446.99,119.03 L447.11,119.3 L447.24,119.56 L447.37,119.82 L447.49,120.08 L447.62,120.32 L447.75,120.57 L447.87,120.81 L448,121.04 L448.13,121.27 L448.25,121.5 L448.38,121.72 L448.51,121.94 L448.63,122.16 L448.76,122.37 L448.89,122.58 L449.01,122.78 L449.14,122.98 L449.27,123.18 L449.39,123.37 L449.52,123.56 L449.65,123.75 L449.77,123.94 L449.9,124.12 L450.03,124.3 L450.15,124.48 L450.28,124.65 L450.41,124.83 L450.53,125 L450.66,125.16 L450.79,125.33 L450.91,125.49 L451.04,125.65 L451.17,125.81 L451.29,125.97 L451.42,126.12 L451.55,126.28 L451.67,126.43 L451.8,126.58 L451.93,126.72 L452.05,126.87 L452.18,127.01 L452.31,127.15 L452.43,127.29 L452.56,127.43 L452.69,127.57 L452.81,127.71 L452.94,127.84 L453.07,127.97 L453.19,128.1 L453.32,128.23 L453.45,128.36 L453.57,128.49 L453.7,128.61 L453.83,128.74 L453.95,128.86 L454.08,128.98 L454.21,129.1 L454.33,129.22 L454.46,129.34 L454.59,129.45 L454.71,129.57 L454.84,129.68 L454.97,129.8 L455.09,129.91 L455.22,130.02 L455.35,130.13 L455.47,130.24 L455.6,130.35 L455.73,130.45 L455.85,130.56 L455.98,130.67 L456.11,130.77 L456.23,130.87 L456.36,130.98 L456.49,131.08 L456.61,131.18 L456.74,131.28 L456.87,131.38 L456.99,131.48 L457.12,131.57 L457.25,131.67 L457.37,131.76 L457.5,131.86 L457.63,131.95 L457.75,132.05 L457.88,132.14 L458.01,132.23 L458.13,132.32 L458.26,132.41 L458.39,132.5 L458.51,132.59 L458.64,132.68 L458.77,132.77 L458.89,132.86 L459.02,132.94 L459.15,133.03 L459.27,133.11 L459.4,133.2 L461.66,134.61 L463.91,135.86 L466.17,136.99 L468.43,138.01 L470.68,138.94 L472.94,139.79 L475.2,140.57 L477.45,141.3 L479.71,141.97 L481.97,142.6 L484.22,143.19 L486.48,143.74 L488.74,144.26 L490.99,144.74 L493.25,145.2 L495.51,145.63 L497.76,146.04 L500.02,146.43 L502.28,146.8 L504.53,147.15 L506.79,147.48 L509.05,147.8 L511.3,148.1 L513.56,148.39 L515.82,148.66 L518.07,148.93 L520.33,149.18 L522.59,149.43 L524.84,149.66 L527.1,149.88 L529.36,150.1 L531.61,150.31 L533.87,150.51 L536.12,150.7 L538.38,150.88 L540.64,151.06 L542.89,151.24 L545.15,151.4 L547.41,151.56" fill="none" stroke="#ef6a6a" stroke-width="1.4" stroke-linejoin="round" stroke-linecap="round" />
<path d="M333.39,151.56 L335.59,151.41 L337.79,151.24 L339.99,151.08 L342.19,150.9 L344.39,150.72 L346.59,150.54 L348.79,150.34 L350.99,150.14 L353.19,149.93 L355.39,149.72 L357.59,149.49 L359.79,149.26 L361.99,149.01 L364.19,148.76 L366.39,148.49 L368.6,148.22 L370.8,147.93 L373,147.62 L375.2,147.31 L377.4,146.97 L379.6,146.62 L381.8,146.26 L384,145.87 L386.2,145.46 L388.4,145.03 L390.6,144.57 L392.8,144.09 L395,143.58 L397.2,143.03 L399.4,142.45 L401.6,141.83 L403.8,141.16 L406,140.44 L408.2,139.66 L410.4,138.82 L412.6,137.91 L414.8,136.91 L417,135.8 L419.2,134.57 L421.4,133.2 L421.53,133.11 L421.65,133.03 L421.78,132.94 L421.91,132.86 L422.03,132.77 L422.16,132.68 L422.29,132.59 L422.41,132.5 L422.54,132.41 L422.67,132.32 L422.79,132.23 L422.92,132.14 L423.05,132.05 L423.17,131.95 L423.3,131.86 L423.43,131.76 L423.55,131.67 L423.68,131.57 L423.81,131.48 L423.93,131.38 L424.06,131.28 L424.19,131.18 L424.31,131.08 L424.44,130.98 L424.57,130.87 L424.69,130.77 L424.82,130.67 L424.95,130.56 L425.07,130.45 L425.2,130.35 L425.33,130.24 L425.45,130.13 L425.58,130.02 L425.71,129.91 L425.83,129.8 L425.96,129.68 L426.09,129.57 L426.21,129.45 L426.34,129.34 L426.47,129.22 L426.59,129.1 L426.72,128.98 L426.85,128.86 L426.97,128.74 L427.1,128.61 L427.23,128.49 L427.35,128.36 L427.48,128.23 L427.61,128.1 L427.73,127.97 L427.86,127.84 L427.99,127.71 L428.11,127.57 L428.24,127.43 L428.37,127.29 L428.49,127.15 L428.62,127.01 L428.75,126.87 L428.87,126.72 L429,126.58 L429.13,126.43 L429.25,126.28 L429.38,126.12 L429.51,125.97 L429.63,125.81 L429.76,125.65 L429.89,125.49 L430.01,125.33 L430.14,125.16 L430.27,125 L430.39,124.83 L430.52,124.65 L430.65,124.48 L430.77,124.3 L430.9,124.12 L431.03,123.94 L431.15,123.75 L431.28,123.56 L431.41,123.37 L431.53,123.18 L431.66,122.98 L431.79,122.78 L431.91,122.58 L432.04,122.37 L432.17,122.16 L432.29,121.94 L432.42,121.72 L432.55,121.5 L432.67,121.27 L432.8,121.04 L432.93,120.81 L433.05,120.57 L433.18,120.32 L433.31,120.08 L433.43,119.82 L433.56,119.56 L433.69,119.3 L433.81,119.03 L433.94,118.75 L434.07,118.47 L434.19,118.19 L434.32,117.89 L434.45,117.59 L434.57,117.29 L434.7,116.97 L434.83,116.65 L434.95,116.32 L435.08,115.99 L435.21,115.64 L435.33,115.29 L435.46,114.92 L435.59,114.55 L435.71,114.17 L435.84,113.78 L435.97,113.38 L436.09,112.97 L436.22,112.54 L436.35,112.11 L436.47,111.66 L436.6,111.2 L436.73,110.73 L436.85,110.24 L436.98,109.74 L437.11,109.22 L437.23,108.69 L437.36,108.14 L437.49,107.57 L437.61,106.99 L437.74,106.39 L437.87,105.77 L437.99,105.13 L438.12,104.46 L438.25,103.78 L438.37,103.08 L438.5,102.35 L438.63,101.59 L438.75,100.82 L438.88,100.01 L439.01,99.18 L439.13,98.33 L439.26,97.44 L439.39,96.53 L439.51,95.59 L439.64,94.62 L439.77,93.62 L439.89,92.59 L440.02,91.53 L440.15,90.43 L440.27,89.31 L440.4,88.16 L440.53,87.34 L440.65,86.5 L440.78,85.63 L440.91,84.73 L441.03,83.82 L441.16,82.89 L441.29,81.94 L441.41,80.99 L441.54,80.03 L441.67,79.08 L441.79,78.13 L441.92,77.2 L442.05,76.29 L442.17,75.41 L442.3,74.57 L442.43,73.77 L442.55,73.03 L442.68,72.36 L442.81,71.75 L442.93,71.23 L443.06,70.8 L443.19,70.46 L443.31,70.22 L443.44,70.07 L443.57,70.02 L443.69,70.06 L443.82,70.17 L443.95,70.31 L444.07,70.46 L444.2,70.62 L444.33,70.83 L444.45,71.13 L444.58,71.52 L444.71,72.01 L444.83,72.6 L444.96,73.29 L445.09,74.06 L445.21,74.92 L445.34,75.86 L445.47,76.86 L445.59,77.92 L445.72,79.04 L445.85,80.19 L445.97,81.38 L446.1,82.59 L446.23,83.83 L446.35,85.07 L446.48,86.32 L446.61,87.57 L446.73,88.81 L446.86,90.04 L446.99,91.25 L447.11,92.45 L447.24,93.62 L447.37,94.78 L447.49,95.9 L447.62,97 L447.75,98.07 L447.87,99.12 L448,100.13 L448.13,101.12 L448.25,102.07 L448.38,103 L448.51,103.89 L448.63,104.76 L448.76,105.6 L448.89,106.41 L449.01,107.2 L449.14,107.96 L449.27,108.69 L449.39,109.4 L449.52,110.09 L449.65,110.75 L449.77,111.39 L449.9,112.01 L450.03,112.61 L450.15,113.19 L450.28,113.75 L450.41,114.29 L450.53,114.82 L450.66,115.32 L450.79,115.82 L450.91,116.29 L451.04,116.75 L451.17,117.2 L451.29,117.64 L451.42,118.06 L451.55,118.46 L451.67,118.86 L451.8,119.25 L451.93,119.62 L452.05,119.98 L452.18,120.34 L452.31,120.68 L452.43,121.01 L452.56,121.34 L452.69,121.66 L452.81,121.96 L452.94,122.26 L453.07,122.56 L453.19,122.84 L453.32,123.12 L453.45,123.39 L453.57,123.66 L453.7,123.92 L453.83,124.17 L453.95,124.41 L454.08,124.66 L454.21,124.89 L454.33,125.12 L454.46,125.35 L454.59,125.57 L454.71,125.78 L454.84,126 L454.97,126.2 L455.09,126.41 L455.22,126.61 L455.35,126.8 L455.47,126.99 L455.6,127.18 L455.73,127.36 L455.85,127.55 L455.98,127.72 L456.11,127.9 L456.23,128.07 L456.36,128.24 L456.49,128.4 L456.61,128.56 L456.74,128.72 L456.87,128.88 L456.99,129.04 L457.12,129.19 L457.25,129.34 L457.37,129.49 L457.5,129.63 L457.63,129.77 L457.75,129.91 L457.88,130.05 L458.01,130.19 L458.13,130.32 L458.26,130.46 L458.39,130.59 L458.51,130.72 L458.64,130.84 L458.77,130.97 L458.89,131.09 L459.02,131.21 L459.15,131.34 L459.27,131.45 L459.4,131.57 L461.66,133.45 L463.91,135 L466.17,136.34 L468.43,137.5 L470.68,138.54 L472.94,139.47 L475.2,140.31 L477.45,141.08 L479.71,141.79 L481.97,142.45 L484.22,143.06 L486.48,143.63 L488.74,144.16 L490.99,144.66 L493.25,145.12 L495.51,145.57 L497.76,145.98 L500.02,146.38 L502.28,146.75 L504.53,147.1 L506.79,147.44 L509.05,147.76 L511.3,148.07 L513.56,148.36 L515.82,148.64 L518.07,148.91 L520.33,149.16 L522.59,149.41 L524.84,149.64 L527.1,149.87 L529.36,150.08 L531.61,150.29 L533.87,150.49 L536.12,150.69 L538.38,150.87 L540.64,151.05 L542.89,151.23 L545.15,151.39 L547.41,151.56" fill="none" stroke="#ef6a6a" stroke-width="1.4" stroke-linejoin="round" stroke-linecap="round" />
<path d="M333.39,126.1 L335.59,125.94 L337.79,125.79 L339.99,125.63 L342.19,125.46 L344.39,125.29 L346.59,125.11 L348.79,124.92 L350.99,124.73 L353.19,124.54 L355.39,124.33 L357.59,124.12 L359.79,123.89 L361.99,123.66 L364.19,123.43 L366.39,123.18 L368.6,122.92 L370.8,122.65 L373,122.36 L375.2,122.07 L377.4,121.76 L379.6,121.44 L381.8,121.1 L384,120.74 L386.2,120.37 L388.4,119.98 L390.6,119.57 L392.8,119.13 L395,118.67 L397.2,118.19 L399.4,117.67 L401.6,117.12 L403.8,116.54 L406,115.92 L408.2,115.26 L410.4,114.55 L412.6,113.79 L414.8,112.97 L417,112.08 L419.2,111.11 L421.4,110.05 L421.53,109.99 L421.65,109.93 L421.78,109.86 L421.91,109.8 L422.03,109.73 L422.16,109.66 L422.29,109.6 L422.41,109.53 L422.54,109.46 L422.67,109.4 L422.79,109.33 L422.92,109.26 L423.05,109.19 L423.17,109.12 L423.3,109.05 L423.43,108.98 L423.55,108.91 L423.68,108.84 L423.81,108.77 L423.93,108.7 L424.06,108.63 L424.19,108.55 L424.31,108.48 L424.44,108.41 L424.57,108.33 L424.69,108.26 L424.82,108.18 L424.95,108.11 L425.07,108.03 L425.2,107.95 L425.33,107.88 L425.45,107.8 L425.58,107.72 L425.71,107.64 L425.83,107.56 L425.96,107.48 L426.09,107.4 L426.21,107.32 L426.34,107.24 L426.47,107.16 L426.59,107.07 L426.72,106.99 L426.85,106.91 L426.97,106.82 L427.1,106.74 L427.23,106.65 L427.35,106.56 L427.48,106.47 L427.61,106.39 L427.73,106.3 L427.86,106.21 L427.99,106.12 L428.11,106.02 L428.24,105.93 L428.37,105.84 L428.49,105.74 L428.62,105.65 L428.75,105.55 L428.87,105.46 L429,105.36 L429.13,105.26 L429.25,105.16 L429.38,105.06 L429.51,104.96 L429.63,104.85 L429.76,104.75 L429.89,104.64 L430.01,104.54 L430.14,104.43 L430.27,104.32 L430.39,104.21 L430.52,104.1 L430.65,103.99 L430.77,103.87 L430.9,103.76 L431.03,103.64 L431.15,103.52 L431.28,103.4 L431.41,103.28 L431.53,103.16 L431.66,103.03 L431.79,102.91 L431.91,102.78 L432.04,102.65 L432.17,102.51 L432.29,102.38 L432.42,102.24 L432.55,102.1 L432.67,101.96 L432.8,101.82 L432.93,101.67 L433.05,101.53 L433.18,101.37 L433.31,101.22 L433.43,101.06 L433.56,100.9 L433.69,100.74 L433.81,100.58 L433.94,100.41 L434.07,100.24 L434.19,100.06 L434.32,99.88 L434.45,99.7 L434.57,99.52 L434.7,99.33 L434.83,99.13 L434.95,98.94 L435.08,98.74 L435.21,98.53 L435.33,98.32 L435.46,98.11 L435.59,97.9 L435.71,97.68 L435.84,97.45 L435.97,97.23 L436.09,97 L436.22,96.76 L436.35,96.53 L436.47,96.29 L436.6,96.05 L436.73,95.81 L436.85,95.56 L436.98,95.32 L437.11,95.08 L437.23,94.84 L437.36,94.6 L437.49,94.36 L437.61,94.13 L437.74,93.9 L437.87,93.68 L437.99,93.46 L438.12,93.25 L438.25,93.05 L438.37,92.86 L438.5,92.68 L438.63,92.5 L438.75,92.34 L438.88,92.19 L439.01,92.04 L439.13,91.91 L439.26,91.77 L439.39,91.63 L439.51,91.5 L439.64,91.37 L439.77,91.25 L439.89,91.14 L440.02,91.03 L440.15,90.94 L440.27,90.86 L440.4,90.79 L440.53,91.01 L440.65,91.25 L440.78,91.49 L440.91,91.73 L441.03,91.98 L441.16,92.24 L441.29,92.49 L441.41,92.75 L441.54,93.01 L441.67,93.27 L441.79,93.53 L441.92,93.78 L442.05,94.04 L442.17,94.29 L442.3,94.54 L442.43,94.79 L442.55,95.04 L442.68,95.28 L442.81,95.52 L442.93,95.75 L443.06,95.98 L443.19,96.21 L443.31,96.43 L443.44,96.65 L443.57,96.86 L443.69,97.07 L443.82,97.28 L443.95,97.48 L444.07,97.68 L444.2,97.88 L444.33,98.07 L444.45,98.25 L444.58,98.44 L444.71,98.62 L444.83,98.8 L444.96,98.97 L445.09,99.14 L445.21,99.31 L445.34,99.48 L445.47,99.64 L445.59,99.8 L445.72,99.96 L445.85,100.11 L445.97,100.27 L446.1,100.42 L446.23,100.56 L446.35,100.71 L446.48,100.85 L446.61,101 L446.73,101.14 L446.86,101.27 L446.99,101.41 L447.11,101.54 L447.24,101.67 L447.37,101.8 L447.49,101.93 L447.62,102.06 L447.75,102.19 L447.87,102.31 L448,102.43 L448.13,102.55 L448.25,102.67 L448.38,102.79 L448.51,102.91 L448.63,103.02 L448.76,103.14 L448.89,103.25 L449.01,103.36 L449.14,103.48 L449.27,103.59 L449.39,103.69 L449.52,103.8 L449.65,103.91 L449.77,104.01 L449.9,104.12 L450.03,104.22 L450.15,104.33 L450.28,104.43 L450.41,104.53 L450.53,104.63 L450.66,104.73 L450.79,104.83 L450.91,104.92 L451.04,105.02 L451.17,105.12 L451.29,105.21 L451.42,105.3 L451.55,105.4 L451.67,105.49 L451.8,105.58 L451.93,105.67 L452.05,105.76 L452.18,105.85 L452.31,105.94 L452.43,106.03 L452.56,106.12 L452.69,106.21 L452.81,106.29 L452.94,106.38 L453.07,106.47 L453.19,106.55 L453.32,106.63 L453.45,106.72 L453.57,106.8 L453.7,106.88 L453.83,106.96 L453.95,107.05 L454.08,107.13 L454.21,107.21 L454.33,107.29 L454.46,107.37 L454.59,107.44 L454.71,107.52 L454.84,107.6 L454.97,107.68 L455.09,107.75 L455.22,107.83 L455.35,107.91 L455.47,107.98 L455.6,108.06 L455.73,108.13 L455.85,108.2 L455.98,108.28 L456.11,108.35 L456.23,108.42 L456.36,108.5 L456.49,108.57 L456.61,108.64 L456.74,108.71 L456.87,108.78 L456.99,108.85 L457.12,108.92 L457.25,108.99 L457.37,109.06 L457.5,109.13 L457.63,109.19 L457.75,109.26 L457.88,109.33 L458.01,109.4 L458.13,109.46 L458.26,109.53 L458.39,109.59 L458.51,109.66 L458.64,109.72 L458.77,109.79 L458.89,109.85 L459.02,109.92 L459.15,109.98 L459.27,110.04 L459.4,110.11 L461.66,111.18 L463.91,112.16 L466.17,113.06 L468.43,113.89 L470.68,114.66 L472.94,115.38 L475.2,116.05 L477.45,116.67 L479.71,117.26 L481.97,117.81 L484.22,118.33 L486.48,118.82 L488.74,119.28 L490.99,119.72 L493.25,120.14 L495.51,120.53 L497.76,120.9 L500.02,121.26 L502.28,121.6 L504.53,121.92 L506.79,122.23 L509.05,122.53 L511.3,122.81 L513.56,123.08 L515.82,123.34 L518.07,123.59 L520.33,123.83 L522.59,124.06 L524.84,124.28 L527.1,124.49 L529.36,124.69 L531.61,124.89 L533.87,125.08 L536.12,125.27 L538.38,125.44 L540.64,125.61 L542.89,125.78 L545.15,125.94 L547.41,126.1" fill="none" stroke="#3e82da" stroke-width="1.5" stroke-linejoin="round" stroke-linecap="round" />
<path d="M333.39,126.1 L335.59,125.94 L337.79,125.79 L339.99,125.63 L342.19,125.46 L344.39,125.29 L346.59,125.11 L348.79,124.93 L350.99,124.73 L353.19,124.54 L355.39,124.33 L357.59,124.12 L359.79,123.9 L361.99,123.67 L364.19,123.43 L366.39,123.18 L368.6,122.92 L370.8,122.65 L373,122.36 L375.2,122.07 L377.4,121.76 L379.6,121.44 L381.8,121.1 L384,120.75 L386.2,120.37 L388.4,119.98 L390.6,119.57 L392.8,119.14 L395,118.68 L397.2,118.19 L399.4,117.68 L401.6,117.13 L403.8,116.55 L406,115.93 L408.2,115.27 L410.4,114.57 L412.6,113.81 L414.8,112.99 L417,112.11 L419.2,111.15 L421.4,110.11 L421.53,110.04 L421.65,109.98 L421.78,109.92 L421.91,109.85 L422.03,109.79 L422.16,109.72 L422.29,109.66 L422.41,109.59 L422.54,109.53 L422.67,109.46 L422.79,109.4 L422.92,109.33 L423.05,109.26 L423.17,109.19 L423.3,109.13 L423.43,109.06 L423.55,108.99 L423.68,108.92 L423.81,108.85 L423.93,108.78 L424.06,108.71 L424.19,108.64 L424.31,108.57 L424.44,108.5 L424.57,108.42 L424.69,108.35 L424.82,108.28 L424.95,108.2 L425.07,108.13 L425.2,108.06 L425.33,107.98 L425.45,107.91 L425.58,107.83 L425.71,107.75 L425.83,107.68 L425.96,107.6 L426.09,107.52 L426.21,107.44 L426.34,107.37 L426.47,107.29 L426.59,107.21 L426.72,107.13 L426.85,107.05 L426.97,106.96 L427.1,106.88 L427.23,106.8 L427.35,106.72 L427.48,106.63 L427.61,106.55 L427.73,106.47 L427.86,106.38 L427.99,106.29 L428.11,106.21 L428.24,106.12 L428.37,106.03 L428.49,105.94 L428.62,105.85 L428.75,105.76 L428.87,105.67 L429,105.58 L429.13,105.49 L429.25,105.4 L429.38,105.3 L429.51,105.21 L429.63,105.12 L429.76,105.02 L429.89,104.92 L430.01,104.83 L430.14,104.73 L430.27,104.63 L430.39,104.53 L430.52,104.43 L430.65,104.33 L430.77,104.22 L430.9,104.12 L431.03,104.01 L431.15,103.91 L431.28,103.8 L431.41,103.69 L431.53,103.59 L431.66,103.48 L431.79,103.36 L431.91,103.25 L432.04,103.14 L432.17,103.02 L432.29,102.91 L432.42,102.79 L432.55,102.67 L432.67,102.55 L432.8,102.43 L432.93,102.31 L433.05,102.19 L433.18,102.06 L433.31,101.93 L433.43,101.8 L433.56,101.67 L433.69,101.54 L433.81,101.41 L433.94,101.27 L434.07,101.14 L434.19,101 L434.32,100.85 L434.45,100.71 L434.57,100.56 L434.7,100.42 L434.83,100.27 L434.95,100.11 L435.08,99.96 L435.21,99.8 L435.33,99.64 L435.46,99.48 L435.59,99.31 L435.71,99.14 L435.84,98.97 L435.97,98.8 L436.09,98.62 L436.22,98.44 L436.35,98.25 L436.47,98.07 L436.6,97.88 L436.73,97.68 L436.85,97.48 L436.98,97.28 L437.11,97.07 L437.23,96.86 L437.36,96.65 L437.49,96.43 L437.61,96.21 L437.74,95.98 L437.87,95.75 L437.99,95.52 L438.12,95.28 L438.25,95.04 L438.37,94.79 L438.5,94.54 L438.63,94.29 L438.75,94.04 L438.88,93.78 L439.01,93.53 L439.13,93.27 L439.26,93.01 L439.39,92.75 L439.51,92.49 L439.64,92.24 L439.77,91.98 L439.89,91.73 L440.02,91.49 L440.15,91.25 L440.27,91.01 L440.4,90.79 L440.53,90.86 L440.65,90.94 L440.78,91.03 L440.91,91.14 L441.03,91.25 L441.16,91.37 L441.29,91.5 L441.41,91.63 L441.54,91.77 L441.67,91.91 L441.79,92.04 L441.92,92.19 L442.05,92.34 L442.17,92.5 L442.3,92.68 L442.43,92.86 L442.55,93.05 L442.68,93.25 L442.81,93.46 L442.93,93.68 L443.06,93.9 L443.19,94.13 L443.31,94.36 L443.44,94.6 L443.57,94.84 L443.69,95.08 L443.82,95.32 L443.95,95.56 L444.07,95.81 L444.2,96.05 L444.33,96.29 L444.45,96.53 L444.58,96.76 L444.71,97 L444.83,97.23 L444.96,97.45 L445.09,97.68 L445.21,97.9 L445.34,98.11 L445.47,98.32 L445.59,98.53 L445.72,98.74 L445.85,98.94 L445.97,99.13 L446.1,99.33 L446.23,99.52 L446.35,99.7 L446.48,99.88 L446.61,100.06 L446.73,100.24 L446.86,100.41 L446.99,100.58 L447.11,100.74 L447.24,100.9 L447.37,101.06 L447.49,101.22 L447.62,101.37 L447.75,101.53 L447.87,101.67 L448,101.82 L448.13,101.96 L448.25,102.1 L448.38,102.24 L448.51,102.38 L448.63,102.51 L448.76,102.65 L448.89,102.78 L449.01,102.91 L449.14,103.03 L449.27,103.16 L449.39,103.28 L449.52,103.4 L449.65,103.52 L449.77,103.64 L449.9,103.76 L450.03,103.87 L450.15,103.99 L450.28,104.1 L450.41,104.21 L450.53,104.32 L450.66,104.43 L450.79,104.54 L450.91,104.64 L451.04,104.75 L451.17,104.85 L451.29,104.96 L451.42,105.06 L451.55,105.16 L451.67,105.26 L451.8,105.36 L451.93,105.46 L452.05,105.55 L452.18,105.65 L452.31,105.74 L452.43,105.84 L452.56,105.93 L452.69,106.02 L452.81,106.12 L452.94,106.21 L453.07,106.3 L453.19,106.39 L453.32,106.47 L453.45,106.56 L453.57,106.65 L453.7,106.74 L453.83,106.82 L453.95,106.91 L454.08,106.99 L454.21,107.07 L454.33,107.16 L454.46,107.24 L454.59,107.32 L454.71,107.4 L454.84,107.48 L454.97,107.56 L455.09,107.64 L455.22,107.72 L455.35,107.8 L455.47,107.88 L455.6,107.95 L455.73,108.03 L455.85,108.11 L455.98,108.18 L456.11,108.26 L456.23,108.33 L456.36,108.41 L456.49,108.48 L456.61,108.55 L456.74,108.63 L456.87,108.7 L456.99,108.77 L457.12,108.84 L457.25,108.91 L457.37,108.98 L457.5,109.05 L457.63,109.12 L457.75,109.19 L457.88,109.26 L458.01,109.33 L458.13,109.4 L458.26,109.46 L458.39,109.53 L458.51,109.6 L458.64,109.66 L458.77,109.73 L458.89,109.8 L459.02,109.86 L459.15,109.93 L459.27,109.99 L459.4,110.05 L461.66,111.14 L463.91,112.13 L466.17,113.03 L468.43,113.87 L470.68,114.65 L472.94,115.37 L475.2,116.04 L477.45,116.67 L479.71,117.25 L481.97,117.81 L484.22,118.33 L486.48,118.82 L488.74,119.28 L490.99,119.72 L493.25,120.13 L495.51,120.53 L497.76,120.9 L500.02,121.26 L502.28,121.6 L504.53,121.92 L506.79,122.23 L509.05,122.52 L511.3,122.81 L513.56,123.08 L515.82,123.34 L518.07,123.59 L520.33,123.82 L522.59,124.05 L524.84,124.28 L527.1,124.49 L529.36,124.69 L531.61,124.89 L533.87,125.08 L536.12,125.27 L538.38,125.44 L540.64,125.61 L542.89,125.78 L545.15,125.94 L547.41,126.1" fill="none" stroke="#3e82da" stroke-width="1.5" stroke-linejoin="round" stroke-linecap="round" />
<rect x="333.4" y="6.4" width="214" height="171.8" fill="none" stroke="#303030" stroke-width="1.3" />
<line x1="333.4" y1="178.2" x2="330.4" y2="178.2" stroke="#303030" stroke-width="1" />
<text x="327.6" y="181.6" font-size="10" fill="#2a2a2a" stroke="#2a2a2a" stroke-width="0.22" text-anchor="end" >-120</text>
<line x1="333.4" y1="149.54" x2="330.4" y2="149.54" stroke="#303030" stroke-width="1" />
<text x="327.6" y="152.94" font-size="10" fill="#2a2a2a" stroke="#2a2a2a" stroke-width="0.22" text-anchor="end" >-80</text>
<line x1="333.4" y1="120.87" x2="330.4" y2="120.87" stroke="#303030" stroke-width="1" />
<text x="327.6" y="124.27" font-size="10" fill="#2a2a2a" stroke="#2a2a2a" stroke-width="0.22" text-anchor="end" >-40</text>
<line x1="333.4" y1="92.2" x2="330.4" y2="92.2" stroke="#303030" stroke-width="1" />
<text x="327.6" y="95.6" font-size="10" fill="#2a2a2a" stroke="#2a2a2a" stroke-width="0.22" text-anchor="end" >0</text>
<line x1="333.4" y1="63.53" x2="330.4" y2="63.53" stroke="#303030" stroke-width="1" />
<text x="327.6" y="66.93" font-size="10" fill="#2a2a2a" stroke="#2a2a2a" stroke-width="0.22" text-anchor="end" >40</text>
<line x1="333.4" y1="34.86" x2="330.4" y2="34.86" stroke="#303030" stroke-width="1" />
<text x="327.6" y="38.26" font-size="10" fill="#2a2a2a" stroke="#2a2a2a" stroke-width="0.22" text-anchor="end" >80</text>
<line x1="333.4" y1="6.2" x2="330.4" y2="6.2" stroke="#303030" stroke-width="1" />
<text x="327.6" y="9.6" font-size="10" fill="#2a2a2a" stroke="#2a2a2a" stroke-width="0.22" text-anchor="end" >120</text>
<line x1="333.4" y1="163.87" x2="331.6" y2="163.87" stroke="#303030" stroke-width="0.8" />
<line x1="333.4" y1="135.2" x2="331.6" y2="135.2" stroke="#303030" stroke-width="0.8" />
<line x1="333.4" y1="106.53" x2="331.6" y2="106.53" stroke="#303030" stroke-width="0.8" />
<line x1="333.4" y1="77.87" x2="331.6" y2="77.87" stroke="#303030" stroke-width="0.8" />
<line x1="333.4" y1="49.2" x2="331.6" y2="49.2" stroke="#303030" stroke-width="0.8" />
<line x1="333.4" y1="20.53" x2="331.6" y2="20.53" stroke="#303030" stroke-width="0.8" />
<line x1="364.4" y1="178.2" x2="364.4" y2="180.7" stroke="#303030" stroke-width="1" />
<text x="364.4" y="192.2" font-size="9.6" fill="#2a2a2a" stroke="#2a2a2a" stroke-width="0.22" text-anchor="middle" >-10</text>
<line x1="402.4" y1="178.2" x2="402.4" y2="180.7" stroke="#303030" stroke-width="1" />
<text x="402.4" y="192.2" font-size="9.6" fill="#2a2a2a" stroke="#2a2a2a" stroke-width="0.22" text-anchor="middle" >-5</text>
<line x1="440.4" y1="178.2" x2="440.4" y2="180.7" stroke="#303030" stroke-width="1" />
<text x="440.4" y="192.2" font-size="9.6" fill="#2a2a2a" stroke="#2a2a2a" stroke-width="0.22" text-anchor="middle" >0</text>
<line x1="478.4" y1="178.2" x2="478.4" y2="180.7" stroke="#303030" stroke-width="1" />
<text x="478.4" y="192.2" font-size="9.6" fill="#2a2a2a" stroke="#2a2a2a" stroke-width="0.22" text-anchor="middle" >5</text>
<line x1="516.4" y1="178.2" x2="516.4" y2="180.7" stroke="#303030" stroke-width="1" />
<text x="516.4" y="192.2" font-size="9.6" fill="#2a2a2a" stroke="#2a2a2a" stroke-width="0.22" text-anchor="middle" >10</text>
<line x1="345.4" y1="178.2" x2="345.4" y2="179.8" stroke="#303030" stroke-width="0.8" />
<line x1="383.4" y1="178.2" x2="383.4" y2="179.8" stroke="#303030" stroke-width="0.8" />
<line x1="421.4" y1="178.2" x2="421.4" y2="179.8" stroke="#303030" stroke-width="0.8" />
<line x1="459.4" y1="178.2" x2="459.4" y2="179.8" stroke="#303030" stroke-width="0.8" />
<line x1="497.4" y1="178.2" x2="497.4" y2="179.8" stroke="#303030" stroke-width="0.8" />
<line x1="535.4" y1="178.2" x2="535.4" y2="179.8" stroke="#303030" stroke-width="0.8" />
<text x="425.6" y="207.1" font-size="14.6" fill="#2a2a2a" stroke="#2a2a2a" stroke-width="0.22" xml:space="preserve"><tspan font-size="14.6" font-style="italic">H</tspan><tspan font-size="14.6"> (T)</tspan></text>
<text x="298.9" y="85.2" font-size="12.6" fill="#2a2a2a" stroke="#2a2a2a" stroke-width="0.22" text-anchor="middle" transform="rotate(-90 298.9 85.2)" xml:space="preserve"><tspan font-size="12.6">Δ</tspan><tspan font-size="12.6" font-style="italic">ρ</tspan><tspan font-size="12.6">/</tspan><tspan font-size="12.6" font-style="italic">ρ</tspan><tspan font-size="9.07" dy="3.53">0T</tspan><tspan font-size="12.6" dy="-3.53"> (%)</tspan></text>
<text x="338.2" y="22.6" font-size="14.8" fill="#2a2a2a" stroke="#2a2a2a" stroke-width="0.22" >(b)</text>
<text x="377" y="25.2" font-size="13" fill="#2a2a2a" stroke="#2a2a2a" stroke-width="0.22" xml:space="preserve"><tspan font-size="13">Rb(Zn</tspan><tspan font-size="9.36" dy="3.64">0.93−</tspan><tspan font-size="9.36" font-style="italic">y</tspan><tspan font-size="13" dy="-3.64">Li</tspan><tspan font-size="9.36" dy="3.64" font-style="italic">y</tspan><tspan font-size="13" dy="-3.64">Mn</tspan><tspan font-size="9.36" dy="3.64">0.07</tspan><tspan font-size="13" dy="-3.64">)</tspan><tspan font-size="9.36" dy="3.64">4</tspan><tspan font-size="13" dy="-3.64">As</tspan><tspan font-size="9.36" dy="3.64">3</tspan></text>
<text x="465.6" y="51.6" font-size="11" fill="#2a2a2a" stroke="#2a2a2a" stroke-width="0.22" xml:space="preserve"><tspan font-size="11" font-style="italic">T</tspan><tspan font-size="11">= 2 K</tspan></text>
<text x="503.6" y="51.6" font-size="11" fill="#2a2a2a" stroke="#2a2a2a" stroke-width="0.22" xml:space="preserve"><tspan font-size="11" font-style="italic">H</tspan><tspan font-size="11">// </tspan><tspan font-size="11" font-style="italic">c</tspan><tspan font-size="11">-axis</tspan></text>
<line x1="465" y1="60.4" x2="489" y2="60.4" stroke="#62c291" stroke-width="1.3" />
<line x1="465" y1="74" x2="489" y2="74" stroke="#6a6a6a" stroke-width="1.1" />
<text x="512.4" y="77.6" font-size="11" fill="#2a2a2a" stroke="#2a2a2a" stroke-width="0.22" >0.10</text>
<line x1="465" y1="87.3" x2="489" y2="87.3" stroke="#ef6a6a" stroke-width="1.3" />
<text x="512.4" y="90.9" font-size="11" fill="#2a2a2a" stroke="#2a2a2a" stroke-width="0.22" >0.15</text>
<line x1="465" y1="100.6" x2="489" y2="100.6" stroke="#3e82da" stroke-width="1.3" />
<text x="512.4" y="104.2" font-size="11" fill="#2a2a2a" stroke="#2a2a2a" stroke-width="0.22" >0.20</text>
<text x="496.4" y="64" font-size="11" fill="#2a2a2a" stroke="#2a2a2a" stroke-width="0.22" xml:space="preserve"><tspan font-size="11" font-style="italic">y</tspan><tspan font-size="11"> = 0.05</tspan></text>
<path d="M47,387 L47.23,387.15 L47.51,387.34 L47.83,387.56 L48.19,387.81 L48.58,388.08 L49,388.36 L49.45,388.65 L49.93,388.95 L50.42,389.24 L50.94,389.51 L51.46,389.77 L52,390 L52.52,390.22 L53.02,390.43 L53.51,390.64 L54,390.84 L54.51,391.04 L55.06,391.24 L55.66,391.42 L56.33,391.6 L57.09,391.77 L57.94,391.92 L58.9,392.07 L60,392.2 L60.81,392.32 L61.04,392.42 L60.92,392.52 L60.67,392.6 L60.49,392.67 L60.62,392.74 L61.28,392.79 L62.67,392.84 L65.02,392.89 L68.54,392.93 L73.46,392.97 L80,393 L88.84,393.03 L100.18,393.05 L113.5,393.06 L128.3,393.06 L144.05,393.06 L160.25,393.05 L176.38,393.04 L191.93,393.03 L206.38,393.02 L219.21,393.01 L229.93,393 L238,393" fill="none" stroke="#ee4444" stroke-width="1.8" stroke-linejoin="round" stroke-linecap="round" />
<path d="M47,232.4 L47.22,239.1 L47.52,248.73 L47.88,259.95 L48.26,271.45 L48.64,281.91 L49,290 L49.33,295.51 L49.65,299.45 L49.97,302.35 L50.3,304.73 L50.64,307.1 L51,310 L51.38,313.36 L51.76,316.74 L52.16,320.12 L52.57,323.48 L53.02,326.78 L53.5,330 L53.98,333.12 L54.46,336.15 L54.97,339.12 L55.54,342.07 L56.2,345.02 L57,348 L57.94,351.05 L58.98,354.15 L60.12,357.25 L61.35,360.3 L62.65,363.23 L64,366 L65.4,368.63 L66.87,371.19 L68.41,373.62 L70.02,375.93 L71.71,378.06 L73.5,380 L75.39,381.74 L77.39,383.3 L79.47,384.69 L81.61,385.93 L83.8,387.03 L86,388 L88.06,388.81 L89.96,389.44 L91.91,389.93 L94.09,390.32 L96.72,390.66 L100,391 L103.84,391.31 L108.07,391.56 L112.75,391.76 L117.93,391.93 L123.66,392.07 L130,392.2 L137.08,392.32 L144.89,392.41 L153.25,392.48 L162,392.53 L170.97,392.57 L180,392.6 L189.88,392.62 L200.89,392.63 L212.12,392.63 L222.67,392.61 L231.6,392.6 L238,392.6" fill="none" stroke="#4a4a4a" stroke-width="1.9" stroke-linejoin="round" stroke-linecap="round" />
<path d="M47.4,295 L47.52,296.2 L47.68,297.69 L47.86,299.42 L48.06,301.37 L48.28,303.49 L48.51,305.75 L48.76,308.1 L49.01,310.52 L49.26,312.95 L49.51,315.37 L49.76,317.73 L50,320 L50.24,322.27 L50.48,324.63 L50.72,327.07 L50.97,329.56 L51.22,332.06 L51.48,334.56 L51.73,337.03 L51.99,339.44 L52.24,341.77 L52.5,343.99 L52.75,346.08 L53,348 L53.25,349.78 L53.49,351.45 L53.73,353.03 L53.96,354.52 L54.2,355.92 L54.44,357.25 L54.68,358.51 L54.93,359.7 L55.18,360.84 L55.44,361.94 L55.71,362.98 L56,364 L56.29,364.95 L56.56,365.79 L56.84,366.55 L57.11,367.24 L57.39,367.88 L57.69,368.47 L58,369.04 L58.33,369.59 L58.7,370.15 L59.09,370.73 L59.52,371.34 L60,372 L60.51,372.7 L61.06,373.41 L61.62,374.12 L62.22,374.85 L62.85,375.58 L63.5,376.31 L64.18,377.04 L64.89,377.76 L65.62,378.47 L66.39,379.16 L67.18,379.84 L68,380.5 L68.83,381.15 L69.68,381.79 L70.53,382.43 L71.41,383.06 L72.31,383.68 L73.25,384.29 L74.23,384.88 L75.26,385.45 L76.34,386 L77.49,386.53 L78.71,387.03 L80,387.5 L81.32,387.94 L82.64,388.36 L83.97,388.76 L85.33,389.13 L86.75,389.48 L88.25,389.81 L89.84,390.12 L91.56,390.41 L93.41,390.69 L95.42,390.94 L97.61,391.18 L100,391.4 L102.45,391.6 L104.84,391.77 L107.23,391.91 L109.7,392.04 L112.31,392.14 L115.12,392.23 L118.21,392.31 L121.63,392.37 L125.45,392.43 L129.75,392.49 L134.57,392.54 L140,392.6 L146.45,392.65 L154.11,392.69 L162.72,392.73 L172,392.75 L181.68,392.76 L191.5,392.78 L201.18,392.78 L210.44,392.79 L219.03,392.79 L226.67,392.79 L233.08,392.79 L238,392.8" fill="none" stroke="#1a1ae6" stroke-width="1.9" stroke-linejoin="round" stroke-linecap="round" />
<rect x="33" y="230" width="205.5" height="164" fill="none" stroke="#303030" stroke-width="1.2" />
<line x1="33" y1="392.6" x2="30" y2="392.6" stroke="#303030" stroke-width="1" />
<text x="29.4" y="395.8" font-size="9.4" fill="#2a2a2a" stroke="#2a2a2a" stroke-width="0.22" text-anchor="end" >0</text>
<line x1="33" y1="352.08" x2="30" y2="352.08" stroke="#303030" stroke-width="1" />
<text x="29.4" y="355.28" font-size="9.4" fill="#2a2a2a" stroke="#2a2a2a" stroke-width="0.22" text-anchor="end" >200</text>
<line x1="33" y1="311.56" x2="30" y2="311.56" stroke="#303030" stroke-width="1" />
<text x="29.4" y="314.76" font-size="9.4" fill="#2a2a2a" stroke="#2a2a2a" stroke-width="0.22" text-anchor="end" >400</text>
<line x1="33" y1="271.04" x2="30" y2="271.04" stroke="#303030" stroke-width="1" />
<text x="29.4" y="274.24" font-size="9.4" fill="#2a2a2a" stroke="#2a2a2a" stroke-width="0.22" text-anchor="end" >600</text>
<line x1="33" y1="230.52" x2="30" y2="230.52" stroke="#303030" stroke-width="1" />
<text x="29.4" y="233.72" font-size="9.4" fill="#2a2a2a" stroke="#2a2a2a" stroke-width="0.22" text-anchor="end" >800</text>
<line x1="33" y1="372.34" x2="31.2" y2="372.34" stroke="#303030" stroke-width="0.8" />
<line x1="33" y1="331.82" x2="31.2" y2="331.82" stroke="#303030" stroke-width="0.8" />
<line x1="33" y1="291.3" x2="31.2" y2="291.3" stroke="#303030" stroke-width="0.8" />
<line x1="33" y1="250.78" x2="31.2" y2="250.78" stroke="#303030" stroke-width="0.8" />
<line x1="32.6" y1="394" x2="32.6" y2="396.5" stroke="#303030" stroke-width="1" />
<text x="32.6" y="404.4" font-size="9.4" fill="#2a2a2a" stroke="#2a2a2a" stroke-width="0.22" text-anchor="middle" >0</text>
<line x1="66.9" y1="394" x2="66.9" y2="396.5" stroke="#303030" stroke-width="1" />
<text x="66.9" y="404.4" font-size="9.4" fill="#2a2a2a" stroke="#2a2a2a" stroke-width="0.22" text-anchor="middle" >5</text>
<line x1="101.2" y1="394" x2="101.2" y2="396.5" stroke="#303030" stroke-width="1" />
<text x="101.2" y="404.4" font-size="9.4" fill="#2a2a2a" stroke="#2a2a2a" stroke-width="0.22" text-anchor="middle" >10</text>
<line x1="135.5" y1="394" x2="135.5" y2="396.5" stroke="#303030" stroke-width="1" />
<text x="135.5" y="404.4" font-size="9.4" fill="#2a2a2a" stroke="#2a2a2a" stroke-width="0.22" text-anchor="middle" >15</text>
<line x1="169.8" y1="394" x2="169.8" y2="396.5" stroke="#303030" stroke-width="1" />
<text x="169.8" y="404.4" font-size="9.4" fill="#2a2a2a" stroke="#2a2a2a" stroke-width="0.22" text-anchor="middle" >20</text>
<line x1="204.1" y1="394" x2="204.1" y2="396.5" stroke="#303030" stroke-width="1" />
<text x="204.1" y="404.4" font-size="9.4" fill="#2a2a2a" stroke="#2a2a2a" stroke-width="0.22" text-anchor="middle" >25</text>
<line x1="238.4" y1="394" x2="238.4" y2="396.5" stroke="#303030" stroke-width="1" />
<text x="238.4" y="404.4" font-size="9.4" fill="#2a2a2a" stroke="#2a2a2a" stroke-width="0.22" text-anchor="middle" >30</text>
<line x1="49.75" y1="394" x2="49.75" y2="395.6" stroke="#303030" stroke-width="0.8" />
<line x1="84.05" y1="394" x2="84.05" y2="395.6" stroke="#303030" stroke-width="0.8" />
<line x1="118.35" y1="394" x2="118.35" y2="395.6" stroke="#303030" stroke-width="0.8" />
<line x1="152.65" y1="394" x2="152.65" y2="395.6" stroke="#303030" stroke-width="0.8" />
<line x1="186.95" y1="394" x2="186.95" y2="395.6" stroke="#303030" stroke-width="0.8" />
<line x1="221.25" y1="394" x2="221.25" y2="395.6" stroke="#303030" stroke-width="0.8" />
<text x="122.2" y="414.8" font-size="13" fill="#2a2a2a" stroke="#2a2a2a" stroke-width="0.22" xml:space="preserve"><tspan font-size="13" font-style="italic">T</tspan><tspan font-size="13"> (K)</tspan></text>
<text x="12.6" y="310.2" font-size="12.5" fill="#2a2a2a" stroke="#2a2a2a" stroke-width="0.22" text-anchor="middle" transform="rotate(-90 12.6 310.2)" xml:space="preserve"><tspan font-size="12.5" font-style="italic">ρ</tspan><tspan font-size="12.5"> (Ω·cm)</tspan></text>
<text x="55.6" y="251.8" font-size="16" fill="#2a2a2a" stroke="#2a2a2a" stroke-width="0.22" >(c)</text>
<text x="86.4" y="253.3" font-size="12.4" fill="#2a2a2a" stroke="#2a2a2a" stroke-width="0.22" xml:space="preserve"><tspan font-size="12.4">Rb(Zn</tspan><tspan font-size="8.93" dy="3.47">0.83</tspan><tspan font-size="12.4" dy="-3.47">Li</tspan><tspan font-size="8.93" dy="3.47">0.1</tspan><tspan font-size="12.4" dy="-3.47">Mn</tspan><tspan font-size="8.93" dy="3.47">0.07</tspan><tspan font-size="12.4" dy="-3.47">)</tspan><tspan font-size="8.93" dy="3.47">4</tspan><tspan font-size="12.4" dy="-3.47">As</tspan><tspan font-size="8.93" dy="3.47">3</tspan></text>
<line x1="105.6" y1="276.5" x2="131" y2="276.5" stroke="#4a4a4a" stroke-width="1.8" />
<line x1="105.6" y1="290.2" x2="131" y2="290.2" stroke="#ee4444" stroke-width="1.8" />
<line x1="105.6" y1="303.3" x2="131" y2="303.3" stroke="#1a1ae6" stroke-width="1.8" />
<text x="138" y="280" font-size="11" fill="#2a2a2a" stroke="#2a2a2a" stroke-width="0.22" xml:space="preserve"><tspan font-size="11" font-style="italic">H</tspan><tspan font-size="11"> = 0 T  </tspan><tspan font-size="11" font-style="italic">H</tspan><tspan font-size="11">//</tspan><tspan font-size="11" font-style="italic">c</tspan><tspan font-size="11">-axis</tspan></text>
<text x="158" y="293.6" font-size="11" fill="#2a2a2a" stroke="#2a2a2a" stroke-width="0.22" xml:space="preserve"><tspan font-size="11">7 T  </tspan><tspan font-size="11" font-style="italic">H</tspan><tspan font-size="11">//</tspan><tspan font-size="11" font-style="italic">c</tspan><tspan font-size="11">-axis</tspan></text>
<text x="158" y="307.2" font-size="11" fill="#2a2a2a" stroke="#2a2a2a" stroke-width="0.22" xml:space="preserve"><tspan font-size="11">7 T  </tspan><tspan font-size="11" font-style="italic">H</tspan><tspan font-size="11">//</tspan><tspan font-size="11" font-style="italic">ab</tspan><tspan font-size="11">-plane</tspan></text>
<polygon points="118.5,349.3 207.4,349.3 193.7,362.6 105,362.6" fill="#3cba6a" stroke="#1c7e42" stroke-width="0.7" stroke-linejoin="round"/>
<polygon points="105,362.6 193.7,362.6 193.7,369 105,369" fill="#1fac52" stroke="#1c7e42" stroke-width="0.7" stroke-linejoin="round"/>
<polygon points="193.7,362.6 207.4,349.3 207.4,355.8 193.7,369" fill="#179a46" stroke="#1c7e42" stroke-width="0.7" stroke-linejoin="round"/>
<line x1="150.6" y1="359" x2="150.6" y2="320.5" stroke="#e32626" stroke-width="1.6" />
<polygon points="150.6,316.8 148.2,322.2 153,322.2" fill="#e32626"/>
<line x1="150.6" y1="359" x2="188.5" y2="359" stroke="#111" stroke-width="1.5" />
<polygon points="192.6,359.1 186.8,357.2 186.8,361" fill="#111"/>
<line x1="150.6" y1="359" x2="131.2" y2="379.6" stroke="#1a1ae6" stroke-width="1.8" />
<polygon points="128.1,382.6 130,376.8 134.4,380.8" fill="#1a1ae6"/>
<text x="154.4" y="327.6" font-size="12.3" fill="#e32626" stroke="#e32626" stroke-width="0.22" font-weight="bold" xml:space="preserve"><tspan font-size="12.3">H // </tspan><tspan font-size="12.3" font-style="italic">c</tspan><tspan font-size="12.3">-axis</tspan></text>
<text x="158.4" y="355.8" font-size="12.3" fill="#111" stroke="#111" stroke-width="0.22" font-weight="bold" >current</text>
<text x="135" y="385.4" font-size="12.3" fill="#1a1ae6" stroke="#1a1ae6" stroke-width="0.22" font-weight="bold" xml:space="preserve"><tspan font-size="12.3">H // </tspan><tspan font-size="12.3" font-style="italic">ab</tspan><tspan font-size="12.3">-plane</tspan></text>
<path d="M315.89,334.24 L318.01,333.87 L320.13,333.51 L322.25,333.14 L324.37,332.77 L326.49,332.4 L328.61,332.04 L330.73,331.67 L332.85,331.3 L334.97,330.93 L337.09,330.56 L339.2,330.19 L341.32,329.82 L343.44,329.45 L345.56,329.08 L347.68,328.71 L349.8,328.33 L351.92,327.96 L354.04,327.59 L356.16,327.21 L358.28,326.83 L360.4,326.45 L362.52,326.07 L364.64,325.69 L366.76,325.3 L368.88,324.91 L371,324.52 L373.12,324.12 L375.24,323.71 L377.36,323.29 L379.48,322.86 L379.71,322.82 L379.95,322.77 L380.18,322.72 L380.42,322.67 L380.65,322.62 L380.89,322.57 L381.12,322.52 L381.36,322.47 L381.59,322.42 L381.83,322.37 L382.07,322.32 L382.3,322.27 L382.54,322.22 L382.77,322.17 L383.01,322.11 L383.24,322.06 L383.48,322.01 L383.71,321.96 L383.95,321.9 L384.19,321.85 L384.42,321.8 L384.66,321.74 L384.89,321.69 L385.13,321.63 L385.36,321.58 L385.6,321.52 L385.83,321.47 L386.07,321.41 L386.3,321.35 L386.54,321.3 L386.78,321.24 L387.01,321.18 L387.25,321.12 L387.48,321.06 L387.72,321 L387.95,320.94 L388.19,320.88 L388.42,320.81 L388.66,320.75 L388.89,320.69 L389.13,320.62 L389.37,320.56 L389.6,320.49 L389.84,320.42 L390.07,320.35 L390.31,320.29 L390.54,320.22 L390.78,320.14 L391.01,320.07 L391.25,320 L391.49,319.92 L391.72,319.85 L391.96,319.77 L392.19,319.69 L392.43,319.61 L392.66,319.53 L392.9,319.45 L393.13,319.36 L393.37,319.27 L393.61,319.18 L393.84,319.09 L394.08,319 L394.31,318.91 L394.55,318.81 L394.78,318.71 L395.02,318.61 L395.25,318.5 L395.49,318.4 L395.72,318.29 L395.96,318.17 L396.2,318.06 L396.43,317.94 L396.67,317.82 L396.9,317.69 L397.14,317.56 L397.37,317.42 L397.61,317.29 L397.84,317.14 L398.08,317 L398.31,316.84 L398.55,316.69 L398.79,316.52 L399.02,316.36 L399.26,316.18 L399.49,316 L399.73,315.82 L399.96,315.63 L400.2,315.43 L400.43,315.23 L400.67,315.02 L400.91,314.8 L401.14,314.58 L401.38,314.35 L401.61,314.11 L401.85,313.87 L402.08,313.62 L402.32,313.37 L402.55,313.11 L402.79,312.85 L403.03,312.59 L403.26,312.32 L403.5,312.05 L403.73,311.78 L403.97,311.51 L404.2,311.25 L404.44,310.99 L404.67,310.74 L404.91,310.49 L405.14,310.26 L405.38,310.04 L405.62,309.84 L405.85,309.65 L406.09,309.48 L406.32,309.34 L406.56,309.21 L406.79,309.11 L407.03,309.03 L407.26,308.97 L407.5,308.92 L407.74,308.88 L407.97,308.84 L408.21,308.81 L408.44,308.79 L408.68,308.78 L408.91,308.81 L409.15,308.85 L409.38,308.91 L409.62,309 L409.85,309.11 L410.09,309.23 L410.33,309.37 L410.56,309.52 L410.8,309.68 L411.03,309.85 L411.27,310.03 L411.5,310.22 L411.74,310.4 L411.97,310.59 L412.21,310.78 L412.44,310.96 L412.68,311.15 L412.92,311.33 L413.15,311.51 L413.39,311.68 L413.62,311.85 L413.86,312.01 L414.09,312.16 L414.33,312.31 L414.56,312.45 L414.8,312.59 L415.04,312.8 L415.27,313 L415.51,313.2 L415.74,313.39 L415.98,313.57 L416.21,313.75 L416.45,313.92 L416.68,314.09 L416.92,314.25 L417.16,314.41 L417.39,314.56 L417.63,314.71 L417.86,314.85 L418.1,314.99 L418.33,315.13 L418.57,315.26 L418.8,315.38 L419.04,315.51 L419.27,315.63 L419.51,315.74 L419.75,315.86 L419.98,315.97 L420.22,316.07 L420.45,316.18 L420.69,316.28 L420.92,316.38 L421.16,316.47 L421.39,316.57 L421.63,316.66 L421.87,316.75 L422.1,316.84 L422.34,316.93 L422.57,317.01 L422.81,317.1 L423.04,317.18 L423.28,317.26 L423.51,317.34 L423.75,317.42 L423.98,317.49 L424.22,317.57 L424.46,317.64 L424.69,317.71 L424.93,317.78 L425.16,317.85 L425.4,317.92 L425.63,317.99 L425.87,318.06 L426.1,318.12 L426.34,318.19 L426.57,318.25 L426.81,318.32 L427.05,318.38 L427.28,318.44 L427.52,318.51 L427.75,318.57 L427.99,318.63 L428.22,318.69 L428.46,318.75 L428.69,318.81 L428.93,318.86 L429.17,318.92 L429.4,318.98 L429.64,319.04 L429.87,319.09 L430.11,319.15 L430.34,319.2 L430.58,319.26 L430.81,319.31 L431.05,319.37 L431.29,319.42 L431.52,319.47 L431.76,319.53 L431.99,319.58 L432.23,319.63 L432.46,319.68 L432.7,319.73 L432.93,319.79 L433.17,319.84 L433.4,319.89 L433.64,319.94 L433.88,319.99 L434.11,320.04 L434.35,320.09 L434.58,320.14 L434.82,320.19 L435.05,320.24 L435.29,320.29 L435.52,320.33 L435.76,320.38 L436,320.43 L436.23,320.48 L436.47,320.53 L436.7,320.58 L436.94,320.62 L437.17,320.67 L437.41,320.72 L437.64,320.77 L437.88,320.81 L438.11,320.86 L438.35,320.91 L438.59,320.95 L438.82,321 L439.06,321.05 L439.29,321.09 L439.53,321.14 L439.76,321.18 L440,321.23 L440.23,321.28 L440.47,321.32 L440.7,321.37 L440.94,321.41 L441.18,321.46 L441.41,321.5 L441.65,321.55 L441.88,321.59 L442.12,321.64 L442.35,321.68 L442.59,321.73 L442.82,321.77 L443.06,321.82 L443.3,321.86 L443.53,321.91 L443.77,321.95 L444,322 L444.24,322.04 L444.47,322.08 L444.71,322.13 L444.94,322.17 L445.18,322.22 L445.42,322.26 L445.65,322.3 L445.89,322.35 L446.12,322.39 L446.36,322.43 L446.59,322.48 L446.83,322.52 L447.06,322.57 L447.3,322.61 L447.53,322.65 L447.77,322.7 L448.01,322.74 L448.24,322.78 L448.48,322.83 L448.71,322.87 L448.95,322.91 L449.18,322.96 L449.42,323 L449.65,323.04 L449.89,323.08 L450.12,323.13 L452.32,323.53 L454.51,323.92 L456.7,324.31 L458.9,324.7 L461.09,325.09 L463.28,325.48 L465.47,325.87 L467.67,326.25 L469.86,326.64 L472.05,327.02 L474.24,327.41 L476.44,327.79 L478.63,328.17 L480.82,328.55 L483.01,328.94 L485.21,329.32 L487.4,329.7 L489.59,330.08 L491.78,330.46 L493.98,330.84 L496.17,331.22 L498.36,331.6 L500.55,331.98 L502.75,332.36 L504.94,332.74 L507.13,333.12 L509.32,333.5 L511.52,333.87 L513.71,334.25" fill="none" stroke="#4a4a4a" stroke-width="1.2" stroke-linejoin="round" stroke-linecap="round" />
<path d="M315.89,334.25 L318.01,333.89 L320.13,333.52 L322.25,333.15 L324.37,332.79 L326.49,332.42 L328.61,332.05 L330.73,331.69 L332.85,331.32 L334.97,330.95 L337.09,330.59 L339.2,330.22 L341.32,329.85 L343.44,329.48 L345.56,329.11 L347.68,328.74 L349.8,328.38 L351.92,328.01 L354.04,327.64 L356.16,327.27 L358.28,326.9 L360.4,326.52 L362.52,326.15 L364.64,325.78 L366.76,325.4 L368.88,325.03 L371,324.65 L373.12,324.27 L375.24,323.89 L377.36,323.51 L379.48,323.13 L379.71,323.08 L379.95,323.04 L380.18,323 L380.42,322.96 L380.65,322.91 L380.89,322.87 L381.12,322.83 L381.36,322.78 L381.59,322.74 L381.83,322.7 L382.07,322.65 L382.3,322.61 L382.54,322.57 L382.77,322.52 L383.01,322.48 L383.24,322.43 L383.48,322.39 L383.71,322.35 L383.95,322.3 L384.19,322.26 L384.42,322.22 L384.66,322.17 L384.89,322.13 L385.13,322.08 L385.36,322.04 L385.6,322 L385.83,321.95 L386.07,321.91 L386.3,321.86 L386.54,321.82 L386.78,321.77 L387.01,321.73 L387.25,321.68 L387.48,321.64 L387.72,321.59 L387.95,321.55 L388.19,321.5 L388.42,321.46 L388.66,321.41 L388.89,321.37 L389.13,321.32 L389.37,321.28 L389.6,321.23 L389.84,321.18 L390.07,321.14 L390.31,321.09 L390.54,321.05 L390.78,321 L391.01,320.95 L391.25,320.91 L391.49,320.86 L391.72,320.81 L391.96,320.77 L392.19,320.72 L392.43,320.67 L392.66,320.62 L392.9,320.58 L393.13,320.53 L393.37,320.48 L393.61,320.43 L393.84,320.38 L394.08,320.33 L394.31,320.29 L394.55,320.24 L394.78,320.19 L395.02,320.14 L395.25,320.09 L395.49,320.04 L395.72,319.99 L395.96,319.94 L396.2,319.89 L396.43,319.84 L396.67,319.79 L396.9,319.73 L397.14,319.68 L397.37,319.63 L397.61,319.58 L397.84,319.53 L398.08,319.47 L398.31,319.42 L398.55,319.37 L398.79,319.31 L399.02,319.26 L399.26,319.2 L399.49,319.15 L399.73,319.09 L399.96,319.04 L400.2,318.98 L400.43,318.92 L400.67,318.86 L400.91,318.81 L401.14,318.75 L401.38,318.69 L401.61,318.63 L401.85,318.57 L402.08,318.51 L402.32,318.44 L402.55,318.38 L402.79,318.32 L403.03,318.25 L403.26,318.19 L403.5,318.12 L403.73,318.06 L403.97,317.99 L404.2,317.92 L404.44,317.85 L404.67,317.78 L404.91,317.71 L405.14,317.64 L405.38,317.57 L405.62,317.49 L405.85,317.42 L406.09,317.34 L406.32,317.26 L406.56,317.18 L406.79,317.1 L407.03,317.01 L407.26,316.93 L407.5,316.84 L407.74,316.75 L407.97,316.66 L408.21,316.57 L408.44,316.47 L408.68,316.38 L408.91,316.28 L409.15,316.18 L409.38,316.07 L409.62,315.97 L409.85,315.86 L410.09,315.74 L410.33,315.63 L410.56,315.51 L410.8,315.38 L411.03,315.26 L411.27,315.13 L411.5,314.99 L411.74,314.85 L411.97,314.71 L412.21,314.56 L412.44,314.41 L412.68,314.25 L412.92,314.09 L413.15,313.92 L413.39,313.75 L413.62,313.57 L413.86,313.39 L414.09,313.2 L414.33,313 L414.56,312.8 L414.8,312.59 L415.04,312.45 L415.27,312.31 L415.51,312.16 L415.74,312.01 L415.98,311.85 L416.21,311.68 L416.45,311.51 L416.68,311.33 L416.92,311.15 L417.16,310.96 L417.39,310.78 L417.63,310.59 L417.86,310.4 L418.1,310.22 L418.33,310.03 L418.57,309.85 L418.8,309.68 L419.04,309.52 L419.27,309.37 L419.51,309.23 L419.75,309.11 L419.98,309 L420.22,308.91 L420.45,308.85 L420.69,308.81 L420.92,308.78 L421.16,308.79 L421.39,308.81 L421.63,308.84 L421.87,308.88 L422.1,308.92 L422.34,308.97 L422.57,309.03 L422.81,309.11 L423.04,309.21 L423.28,309.34 L423.51,309.48 L423.75,309.65 L423.98,309.84 L424.22,310.04 L424.46,310.26 L424.69,310.49 L424.93,310.74 L425.16,310.99 L425.4,311.25 L425.63,311.51 L425.87,311.78 L426.1,312.05 L426.34,312.32 L426.57,312.59 L426.81,312.85 L427.05,313.11 L427.28,313.37 L427.52,313.62 L427.75,313.87 L427.99,314.11 L428.22,314.35 L428.46,314.58 L428.69,314.8 L428.93,315.02 L429.17,315.23 L429.4,315.43 L429.64,315.63 L429.87,315.82 L430.11,316 L430.34,316.18 L430.58,316.36 L430.81,316.52 L431.05,316.69 L431.29,316.84 L431.52,317 L431.76,317.14 L431.99,317.29 L432.23,317.42 L432.46,317.56 L432.7,317.69 L432.93,317.82 L433.17,317.94 L433.4,318.06 L433.64,318.17 L433.88,318.29 L434.11,318.4 L434.35,318.5 L434.58,318.61 L434.82,318.71 L435.05,318.81 L435.29,318.91 L435.52,319 L435.76,319.09 L436,319.18 L436.23,319.27 L436.47,319.36 L436.7,319.45 L436.94,319.53 L437.17,319.61 L437.41,319.69 L437.64,319.77 L437.88,319.85 L438.11,319.92 L438.35,320 L438.59,320.07 L438.82,320.14 L439.06,320.22 L439.29,320.29 L439.53,320.35 L439.76,320.42 L440,320.49 L440.23,320.56 L440.47,320.62 L440.7,320.69 L440.94,320.75 L441.18,320.81 L441.41,320.88 L441.65,320.94 L441.88,321 L442.12,321.06 L442.35,321.12 L442.59,321.18 L442.82,321.24 L443.06,321.3 L443.3,321.35 L443.53,321.41 L443.77,321.47 L444,321.52 L444.24,321.58 L444.47,321.63 L444.71,321.69 L444.94,321.74 L445.18,321.8 L445.42,321.85 L445.65,321.9 L445.89,321.96 L446.12,322.01 L446.36,322.06 L446.59,322.11 L446.83,322.17 L447.06,322.22 L447.3,322.27 L447.53,322.32 L447.77,322.37 L448.01,322.42 L448.24,322.47 L448.48,322.52 L448.71,322.57 L448.95,322.62 L449.18,322.67 L449.42,322.72 L449.65,322.77 L449.89,322.82 L450.12,322.86 L452.32,323.31 L454.51,323.74 L456.7,324.16 L458.9,324.57 L461.09,324.98 L463.28,325.38 L465.47,325.78 L467.67,326.18 L469.86,326.57 L472.05,326.96 L474.24,327.35 L476.44,327.74 L478.63,328.13 L480.82,328.51 L483.01,328.9 L485.21,329.28 L487.4,329.67 L489.59,330.05 L491.78,330.43 L493.98,330.82 L496.17,331.2 L498.36,331.58 L500.55,331.96 L502.75,332.34 L504.94,332.72 L507.13,333.1 L509.32,333.48 L511.52,333.86 L513.71,334.24" fill="none" stroke="#4a4a4a" stroke-width="1.2" stroke-linejoin="round" stroke-linecap="round" />
<path d="M315.89,371.92 L318.01,371.79 L320.13,371.66 L322.25,371.52 L324.37,371.38 L326.49,371.23 L328.61,371.08 L330.73,370.92 L332.85,370.76 L334.97,370.59 L337.09,370.42 L339.2,370.24 L341.32,370.05 L343.44,369.86 L345.56,369.66 L347.68,369.45 L349.8,369.23 L351.92,369 L354.04,368.76 L356.16,368.51 L358.28,368.24 L360.4,367.96 L362.52,367.66 L364.64,367.34 L366.76,366.99 L368.88,366.61 L371,366.19 L373.12,365.72 L375.24,365.19 L377.36,364.56 L379.48,363.83 L379.71,363.74 L379.95,363.64 L380.18,363.55 L380.42,363.45 L380.65,363.36 L380.89,363.25 L381.12,363.15 L381.36,363.05 L381.59,362.94 L381.83,362.83 L382.07,362.71 L382.3,362.6 L382.54,362.48 L382.77,362.36 L383.01,362.23 L383.24,362.11 L383.48,361.98 L383.71,361.84 L383.95,361.7 L384.19,361.56 L384.42,361.42 L384.66,361.27 L384.89,361.12 L385.13,360.96 L385.36,360.8 L385.6,360.64 L385.83,360.47 L386.07,360.29 L386.3,360.11 L386.54,359.93 L386.78,359.74 L387.01,359.54 L387.25,359.34 L387.48,359.14 L387.72,358.92 L387.95,358.71 L388.19,358.48 L388.42,358.25 L388.66,358.01 L388.89,357.76 L389.13,357.51 L389.37,357.25 L389.6,356.98 L389.84,356.7 L390.07,356.42 L390.31,356.12 L390.54,355.82 L390.78,355.51 L391.01,355.18 L391.25,354.85 L391.49,354.5 L391.72,354.15 L391.96,353.78 L392.19,353.4 L392.43,353.01 L392.66,352.61 L392.9,352.19 L393.13,351.76 L393.37,351.32 L393.61,350.86 L393.84,350.38 L394.08,349.89 L394.31,349.39 L394.55,348.86 L394.78,348.32 L395.02,347.76 L395.25,347.18 L395.49,346.58 L395.72,345.97 L395.96,345.33 L396.2,344.66 L396.43,343.98 L396.67,343.27 L396.9,342.54 L397.14,341.78 L397.37,341 L397.61,340.19 L397.84,339.35 L398.08,338.48 L398.31,337.58 L398.55,336.65 L398.79,335.69 L399.02,334.69 L399.26,333.66 L399.49,332.6 L399.73,331.49 L399.96,330.35 L400.2,329.16 L400.43,327.94 L400.67,326.67 L400.91,325.35 L401.14,323.99 L401.38,322.59 L401.61,321.13 L401.85,319.62 L402.08,318.05 L402.32,316.44 L402.55,314.76 L402.79,313.03 L403.03,311.23 L403.26,309.38 L403.5,307.46 L403.73,305.47 L403.97,303.41 L404.2,301.28 L404.44,299.09 L404.67,296.81 L404.91,294.47 L405.14,292.04 L405.38,289.55 L405.62,286.97 L405.85,284.32 L406.09,281.61 L406.32,278.82 L406.56,275.98 L406.79,273.1 L407.03,270.21 L407.26,267.33 L407.5,264.55 L407.74,261.94 L407.97,259.69 L408.21,258.01 L408.44,257.16 L408.68,257.3 L408.91,258.38 L409.15,260.15 L409.38,262.37 L409.62,264.84 L409.85,267.45 L410.09,270.1 L410.33,272.75 L410.56,275.38 L410.8,277.95 L411.03,280.46 L411.27,282.9 L411.5,285.27 L411.74,287.56 L411.97,289.78 L412.21,291.92 L412.44,293.98 L412.68,295.98 L412.92,297.89 L413.15,299.74 L413.39,301.51 L413.62,303.22 L413.86,304.86 L414.09,306.44 L414.33,307.95 L414.56,309.41 L414.8,310.8 L415.04,312.45 L415.27,314.05 L415.51,315.6 L415.74,317.09 L415.98,318.53 L416.21,319.93 L416.45,321.27 L416.68,322.58 L416.92,323.84 L417.16,325.06 L417.39,326.24 L417.63,327.37 L417.86,328.48 L418.1,329.54 L418.33,330.57 L418.57,331.57 L418.8,332.53 L419.04,333.46 L419.27,334.37 L419.51,335.24 L419.75,336.08 L419.98,336.9 L420.22,337.69 L420.45,338.46 L420.69,339.2 L420.92,339.91 L421.16,340.61 L421.39,341.28 L421.63,341.93 L421.87,342.56 L422.1,343.17 L422.34,343.76 L422.57,344.34 L422.81,344.89 L423.04,345.43 L423.28,345.95 L423.51,346.46 L423.75,346.95 L423.98,347.42 L424.22,347.88 L424.46,348.33 L424.69,348.76 L424.93,349.18 L425.16,349.59 L425.4,349.99 L425.63,350.37 L425.87,350.74 L426.1,351.11 L426.34,351.46 L426.57,351.8 L426.81,352.13 L427.05,352.45 L427.28,352.77 L427.52,353.07 L427.75,353.37 L427.99,353.66 L428.22,353.93 L428.46,354.21 L428.69,354.47 L428.93,354.73 L429.17,354.98 L429.4,355.22 L429.64,355.46 L429.87,355.69 L430.11,355.92 L430.34,356.14 L430.58,356.35 L430.81,356.56 L431.05,356.76 L431.29,356.96 L431.52,357.16 L431.76,357.35 L431.99,357.53 L432.23,357.71 L432.46,357.88 L432.7,358.06 L432.93,358.22 L433.17,358.39 L433.4,358.55 L433.64,358.7 L433.88,358.85 L434.11,359 L434.35,359.15 L434.58,359.29 L434.82,359.43 L435.05,359.57 L435.29,359.7 L435.52,359.83 L435.76,359.96 L436,360.09 L436.23,360.21 L436.47,360.33 L436.7,360.45 L436.94,360.56 L437.17,360.68 L437.41,360.79 L437.64,360.9 L437.88,361 L438.11,361.11 L438.35,361.21 L438.59,361.31 L438.82,361.41 L439.06,361.51 L439.29,361.61 L439.53,361.7 L439.76,361.8 L440,361.89 L440.23,361.98 L440.47,362.07 L440.7,362.15 L440.94,362.24 L441.18,362.32 L441.41,362.41 L441.65,362.49 L441.88,362.57 L442.12,362.65 L442.35,362.73 L442.59,362.8 L442.82,362.88 L443.06,362.95 L443.3,363.03 L443.53,363.1 L443.77,363.17 L444,363.24 L444.24,363.31 L444.47,363.38 L444.71,363.45 L444.94,363.52 L445.18,363.59 L445.42,363.65 L445.65,363.72 L445.89,363.78 L446.12,363.84 L446.36,363.91 L446.59,363.97 L446.83,364.03 L447.06,364.09 L447.3,364.15 L447.53,364.21 L447.77,364.27 L448.01,364.32 L448.24,364.38 L448.48,364.44 L448.71,364.49 L448.95,364.55 L449.18,364.61 L449.42,364.66 L449.65,364.71 L449.89,364.77 L450.12,364.82 L452.32,365.29 L454.51,365.72 L456.7,366.13 L458.9,366.5 L461.09,366.86 L463.28,367.19 L465.47,367.51 L467.67,367.81 L469.86,368.09 L472.05,368.37 L474.24,368.63 L476.44,368.88 L478.63,369.12 L480.82,369.34 L483.01,369.56 L485.21,369.77 L487.4,369.98 L489.59,370.17 L491.78,370.36 L493.98,370.54 L496.17,370.72 L498.36,370.89 L500.55,371.05 L502.75,371.21 L504.94,371.36 L507.13,371.51 L509.32,371.65 L511.52,371.79 L513.71,371.92" fill="none" stroke="#ee4848" stroke-width="1.2" stroke-linejoin="round" stroke-linecap="round" />
<path d="M315.89,371.92 L318.01,371.79 L320.13,371.66 L322.25,371.52 L324.37,371.38 L326.49,371.23 L328.61,371.08 L330.73,370.92 L332.85,370.76 L334.97,370.6 L337.09,370.42 L339.2,370.24 L341.32,370.06 L343.44,369.86 L345.56,369.66 L347.68,369.46 L349.8,369.24 L351.92,369.01 L354.04,368.78 L356.16,368.53 L358.28,368.28 L360.4,368.01 L362.52,367.73 L364.64,367.44 L366.76,367.13 L368.88,366.8 L371,366.46 L373.12,366.09 L375.24,365.7 L377.36,365.28 L379.48,364.83 L379.71,364.78 L379.95,364.73 L380.18,364.68 L380.42,364.62 L380.65,364.57 L380.89,364.51 L381.12,364.46 L381.36,364.4 L381.59,364.34 L381.83,364.29 L382.07,364.23 L382.3,364.17 L382.54,364.11 L382.77,364.05 L383.01,363.99 L383.24,363.93 L383.48,363.87 L383.71,363.81 L383.95,363.74 L384.19,363.68 L384.42,363.62 L384.66,363.55 L384.89,363.48 L385.13,363.42 L385.36,363.35 L385.6,363.28 L385.83,363.21 L386.07,363.14 L386.3,363.07 L386.54,363 L386.78,362.92 L387.01,362.85 L387.25,362.78 L387.48,362.7 L387.72,362.62 L387.95,362.54 L388.19,362.46 L388.42,362.38 L388.66,362.3 L388.89,362.22 L389.13,362.13 L389.37,362.05 L389.6,361.96 L389.84,361.87 L390.07,361.78 L390.31,361.69 L390.54,361.59 L390.78,361.5 L391.01,361.4 L391.25,361.3 L391.49,361.21 L391.72,361.1 L391.96,361 L392.19,360.89 L392.43,360.79 L392.66,360.68 L392.9,360.57 L393.13,360.45 L393.37,360.34 L393.61,360.22 L393.84,360.1 L394.08,359.98 L394.31,359.85 L394.55,359.72 L394.78,359.59 L395.02,359.46 L395.25,359.32 L395.49,359.18 L395.72,359.04 L395.96,358.89 L396.2,358.75 L396.43,358.59 L396.67,358.44 L396.9,358.28 L397.14,358.12 L397.37,357.95 L397.61,357.78 L397.84,357.61 L398.08,357.43 L398.31,357.24 L398.55,357.06 L398.79,356.86 L399.02,356.67 L399.26,356.46 L399.49,356.26 L399.73,356.04 L399.96,355.83 L400.2,355.6 L400.43,355.37 L400.67,355.14 L400.91,354.89 L401.14,354.64 L401.38,354.39 L401.61,354.13 L401.85,353.86 L402.08,353.58 L402.32,353.29 L402.55,353 L402.79,352.7 L403.03,352.39 L403.26,352.07 L403.5,351.74 L403.73,351.4 L403.97,351.05 L404.2,350.7 L404.44,350.33 L404.67,349.95 L404.91,349.55 L405.14,349.15 L405.38,348.74 L405.62,348.31 L405.85,347.87 L406.09,347.41 L406.32,346.94 L406.56,346.46 L406.79,345.96 L407.03,345.44 L407.26,344.91 L407.5,344.36 L407.74,343.8 L407.97,343.21 L408.21,342.61 L408.44,341.99 L408.68,341.35 L408.91,340.69 L409.15,340 L409.38,339.29 L409.62,338.56 L409.85,337.81 L410.09,337.03 L410.33,336.22 L410.56,335.39 L410.8,334.53 L411.03,333.64 L411.27,332.73 L411.5,331.78 L411.74,330.79 L411.97,329.78 L412.21,328.73 L412.44,327.65 L412.68,326.52 L412.92,325.36 L413.15,324.17 L413.39,322.92 L413.62,321.64 L413.86,320.31 L414.09,318.94 L414.33,317.52 L414.56,316.05 L414.8,314.53 L415.04,313.27 L415.27,311.96 L415.51,310.6 L415.74,309.17 L415.98,307.68 L416.21,306.14 L416.45,304.53 L416.68,302.85 L416.92,301.11 L417.16,299.3 L417.39,297.41 L417.63,295.46 L417.86,293.43 L418.1,291.32 L418.33,289.14 L418.57,286.87 L418.8,284.53 L419.04,282.11 L419.27,279.62 L419.51,277.06 L419.75,274.43 L419.98,271.74 L420.22,269.02 L420.45,266.29 L420.69,263.6 L420.92,261.01 L421.16,258.65 L421.39,256.69 L421.63,255.39 L421.87,254.99 L422.1,255.62 L422.34,257.15 L422.57,259.34 L422.81,261.93 L423.04,264.75 L423.28,267.68 L423.51,270.64 L423.75,273.59 L423.98,276.51 L424.22,279.37 L424.46,282.17 L424.69,284.9 L424.93,287.55 L425.16,290.12 L425.4,292.62 L425.63,295.04 L425.87,297.38 L426.1,299.65 L426.34,301.84 L426.57,303.96 L426.81,306.01 L427.05,307.99 L427.28,309.9 L427.52,311.75 L427.75,313.54 L427.99,315.27 L428.22,316.94 L428.46,318.55 L428.69,320.1 L428.93,321.6 L429.17,323.06 L429.4,324.46 L429.64,325.81 L429.87,327.12 L430.11,328.38 L430.34,329.6 L430.58,330.78 L430.81,331.92 L431.05,333.02 L431.29,334.08 L431.52,335.1 L431.76,336.09 L431.99,337.05 L432.23,337.98 L432.46,338.87 L432.7,339.73 L432.93,340.57 L433.17,341.37 L433.4,342.15 L433.64,342.9 L433.88,343.63 L434.11,344.34 L434.35,345.02 L434.58,345.67 L434.82,346.31 L435.05,346.92 L435.29,347.52 L435.52,348.09 L435.76,348.65 L436,349.19 L436.23,349.71 L436.47,350.21 L436.7,350.7 L436.94,351.17 L437.17,351.62 L437.41,352.07 L437.64,352.49 L437.88,352.91 L438.11,353.31 L438.35,353.7 L438.59,354.07 L438.82,354.43 L439.06,354.79 L439.29,355.13 L439.53,355.46 L439.76,355.78 L440,356.09 L440.23,356.39 L440.47,356.69 L440.7,356.97 L440.94,357.24 L441.18,357.51 L441.41,357.77 L441.65,358.02 L441.88,358.26 L442.12,358.5 L442.35,358.73 L442.59,358.95 L442.82,359.17 L443.06,359.38 L443.3,359.58 L443.53,359.78 L443.77,359.98 L444,360.16 L444.24,360.35 L444.47,360.52 L444.71,360.7 L444.94,360.86 L445.18,361.03 L445.42,361.19 L445.65,361.34 L445.89,361.49 L446.12,361.64 L446.36,361.78 L446.59,361.92 L446.83,362.06 L447.06,362.19 L447.3,362.32 L447.53,362.44 L447.77,362.57 L448.01,362.69 L448.24,362.8 L448.48,362.92 L448.71,363.03 L448.95,363.14 L449.18,363.25 L449.42,363.35 L449.65,363.45 L449.89,363.55 L450.12,363.65 L452.32,364.46 L454.51,365.14 L456.7,365.71 L458.9,366.21 L461.09,366.65 L463.28,367.04 L465.47,367.4 L467.67,367.73 L469.86,368.04 L472.05,368.33 L474.24,368.6 L476.44,368.86 L478.63,369.1 L480.82,369.34 L483.01,369.56 L485.21,369.77 L487.4,369.97 L489.59,370.17 L491.78,370.36 L493.98,370.54 L496.17,370.72 L498.36,370.89 L500.55,371.05 L502.75,371.21 L504.94,371.36 L507.13,371.51 L509.32,371.65 L511.52,371.79 L513.71,371.92" fill="none" stroke="#ee4848" stroke-width="1.2" stroke-linejoin="round" stroke-linecap="round" />
<rect x="316" y="233" width="199" height="159.6" fill="none" stroke="#303030" stroke-width="1.2" />
<line x1="316" y1="376.4" x2="313.5" y2="376.4" stroke="#303030" stroke-width="0.9" />
<text x="313.4" y="376.2" font-size="8.6" fill="#2a2a2a" stroke="#2a2a2a" stroke-width="0.22" text-anchor="end" >-100</text>
<line x1="316" y1="344.4" x2="313.5" y2="344.4" stroke="#303030" stroke-width="0.9" />
<text x="313.4" y="344.2" font-size="8.6" fill="#2a2a2a" stroke="#2a2a2a" stroke-width="0.22" text-anchor="end" >-50</text>
<line x1="316" y1="312.4" x2="313.5" y2="312.4" stroke="#303030" stroke-width="0.9" />
<text x="313.4" y="312.2" font-size="8.6" fill="#2a2a2a" stroke="#2a2a2a" stroke-width="0.22" text-anchor="end" >0</text>
<line x1="316" y1="280.4" x2="313.5" y2="280.4" stroke="#303030" stroke-width="0.9" />
<text x="313.4" y="280.2" font-size="8.6" fill="#2a2a2a" stroke="#2a2a2a" stroke-width="0.22" text-anchor="end" >50</text>
<line x1="316" y1="248.4" x2="313.5" y2="248.4" stroke="#303030" stroke-width="0.9" />
<text x="313.4" y="248.2" font-size="8.6" fill="#2a2a2a" stroke="#2a2a2a" stroke-width="0.22" text-anchor="end" >100</text>
<line x1="316" y1="360.4" x2="314.5" y2="360.4" stroke="#303030" stroke-width="0.8" />
<line x1="316" y1="328.4" x2="314.5" y2="328.4" stroke="#303030" stroke-width="0.8" />
<line x1="316" y1="296.4" x2="314.5" y2="296.4" stroke="#303030" stroke-width="0.8" />
<line x1="316" y1="264.4" x2="314.5" y2="264.4" stroke="#303030" stroke-width="0.8" />
<line x1="330.02" y1="392.6" x2="330.02" y2="390.4" stroke="#303030" stroke-width="0.9" />
<text x="330.02" y="402.4" font-size="8.6" fill="#2a2a2a" stroke="#2a2a2a" stroke-width="0.22" text-anchor="middle" >-6</text>
<line x1="372.41" y1="392.6" x2="372.41" y2="390.4" stroke="#303030" stroke-width="0.9" />
<text x="372.41" y="402.4" font-size="8.6" fill="#2a2a2a" stroke="#2a2a2a" stroke-width="0.22" text-anchor="middle" >-3</text>
<line x1="414.8" y1="392.6" x2="414.8" y2="390.4" stroke="#303030" stroke-width="0.9" />
<text x="414.8" y="402.4" font-size="8.6" fill="#2a2a2a" stroke="#2a2a2a" stroke-width="0.22" text-anchor="middle" >0</text>
<line x1="457.19" y1="392.6" x2="457.19" y2="390.4" stroke="#303030" stroke-width="0.9" />
<text x="457.19" y="402.4" font-size="8.6" fill="#2a2a2a" stroke="#2a2a2a" stroke-width="0.22" text-anchor="middle" >3</text>
<line x1="499.58" y1="392.6" x2="499.58" y2="390.4" stroke="#303030" stroke-width="0.9" />
<text x="499.58" y="402.4" font-size="8.6" fill="#2a2a2a" stroke="#2a2a2a" stroke-width="0.22" text-anchor="middle" >6</text>
<line x1="351.22" y1="392.6" x2="351.22" y2="394.1" stroke="#303030" stroke-width="0.8" />
<line x1="393.61" y1="392.6" x2="393.61" y2="394.1" stroke="#303030" stroke-width="0.8" />
<line x1="436" y1="392.6" x2="436" y2="394.1" stroke="#303030" stroke-width="0.8" />
<line x1="478.38" y1="392.6" x2="478.38" y2="394.1" stroke="#303030" stroke-width="0.8" />
<text x="401" y="412.6" font-size="12.4" fill="#2a2a2a" stroke="#2a2a2a" stroke-width="0.22" xml:space="preserve"><tspan font-size="12.4" font-style="italic">H</tspan><tspan font-size="12.4"> (T)</tspan></text>
<text x="298.8" y="303.8" font-size="12.6" fill="#2a2a2a" stroke="#2a2a2a" stroke-width="0.22" text-anchor="middle" transform="rotate(-90 298.8 303.8)" xml:space="preserve"><tspan font-size="12.6">Δ</tspan><tspan font-size="12.6" font-style="italic">ρ</tspan><tspan font-size="12.6">/</tspan><tspan font-size="12.6" font-style="italic">ρ</tspan><tspan font-size="9.07" dy="3.53">0T</tspan><tspan font-size="12.6" dy="-3.53"> (%)</tspan></text>
<text x="323.4" y="252.4" font-size="14.6" fill="#2a2a2a" stroke="#2a2a2a" stroke-width="0.22" >(d)</text>
<text x="354.4" y="245.6" font-size="11.2" fill="#2a2a2a" stroke="#2a2a2a" stroke-width="0.22" xml:space="preserve"><tspan font-size="11.2">Rb(Zn</tspan><tspan font-size="8.06" dy="3.14">0.83</tspan><tspan font-size="11.2" dy="-3.14">Li</tspan><tspan font-size="8.06" dy="3.14">0.1</tspan><tspan font-size="11.2" dy="-3.14">Mn</tspan><tspan font-size="8.06" dy="3.14">0.07</tspan><tspan font-size="11.2" dy="-3.14">)</tspan><tspan font-size="8.06" dy="3.14">4</tspan><tspan font-size="11.2" dy="-3.14">As</tspan><tspan font-size="8.06" dy="3.14">3</tspan></text>
<text x="432.4" y="263.4" font-size="11.2" fill="#2a2a2a" stroke="#2a2a2a" stroke-width="0.22" xml:space="preserve"><tspan font-size="11.2" font-style="italic">T</tspan><tspan font-size="11.2"> = 2 K</tspan></text>
<line x1="431.6" y1="273.6" x2="457" y2="273.6" stroke="#ee4848" stroke-width="1.3" />
<text x="459.6" y="277.2" font-size="11" fill="#2a2a2a" stroke="#2a2a2a" stroke-width="0.22" xml:space="preserve"><tspan font-size="11" font-style="italic">H</tspan><tspan font-size="11">//</tspan><tspan font-size="11" font-style="italic">c</tspan><tspan font-size="11">-axis</tspan></text>
<line x1="431.6" y1="288" x2="457" y2="288" stroke="#4a4a4a" stroke-width="1.3" />
<text x="459.6" y="291.4" font-size="11" fill="#2a2a2a" stroke="#2a2a2a" stroke-width="0.22" xml:space="preserve"><tspan font-size="11" font-style="italic">H</tspan><tspan font-size="11">//</tspan><tspan font-size="11" font-style="italic">ab</tspan><tspan font-size="11">-plane</tspan></text>
<path d="M50.3,527.32 L233.7,516.68" fill="none" stroke="#3b7fe0" stroke-width="2.0" stroke-linejoin="round" stroke-linecap="round" />
<path d="M50.3,525.64 L233.7,518.36" fill="none" stroke="#e83030" stroke-width="2.0" stroke-linejoin="round" stroke-linecap="round" />
<path d="M50.3,524.52 L233.7,519.48" fill="none" stroke="#b070e0" stroke-width="2.0" stroke-linejoin="round" stroke-linecap="round" />
<line x1="234" y1="515.6" x2="234" y2="519.6" stroke="#222" stroke-width="1.4" />
<path d="M50,592.53 L51.1,591.66 L52.2,589.9 L53.3,588.57 L54.4,588.49 L55.5,588.6 L56.6,588.13 L57.7,587.62 L58.8,587.26 L59.9,586.49 L61,586.14 L62.1,586.93 L63.2,587.56 L64.3,587.22 L65.4,585.94 L66.5,584.75 L67.6,583.89 L68.7,583.73 L69.8,584.1 L70.9,583.24 L72,582.53 L73.1,583.4 L74.2,584.13 L75.3,583.19 L76.4,581.79 L77.5,581.75 L78.6,582.21 L79.7,581.67 L80.8,580.91 L81.9,581.09 L83,582 L84.1,581.77 L85.2,579.97 L86.3,578.94 L87.4,578.17 L88.5,577.21 L89.6,577.27 L90.7,577.93 L91.8,578.35 L92.9,577.2 L94,576 L95.1,576.09 L96.2,575.14 L97.3,573.69 L98.4,573.38 L99.5,573.04 L100.6,572.58 L101.7,571.81 L102.8,570.73 L103.9,571.15 L105,572.03 L106.1,571.87 L107.2,571.44 L108.3,571.1 L109.4,569.95 L110.5,568.53 L111.6,567.68 L112.7,566.56 L113.8,565.69 L114.9,565.82 L116,567.04 L117.1,567.34 L118.2,566.73 L119.3,566.38 L120.4,565.4 L121.5,564.9 L122.6,564.55 L123.7,564.03 L124.8,564.89 L125.9,565.21 L127,564.21 L128.1,563.99 L129.2,564.4 L130.3,564.73 L131.4,564.44 L132.5,563.99 L133.6,563.76 L134.7,562.82 L135.8,562.39 L136.9,562.63 L138,562.12 L139.1,562.24 L140.2,562.38 L141.3,561.45 L142,561.45 L142,483.4 L143,483.4 L144.1,484.64 L145.2,483.57 L146.3,481.59 L147.4,480.26 L148.5,480.61 L149.6,481.12 L150.7,480.83 L151.8,480.72 L152.9,480.85 L154,480.53 L155.1,480.49 L156.2,480.38 L157.3,479.55 L158.4,479.94 L159.5,481.04 L160.6,480.03 L161.7,478.31 L162.8,478.33 L163.9,479.1 L165,479.15 L166.1,478.21 L167.2,477.13 L168.3,477.02 L169.4,477.54 L170.5,477.3 L171.6,476.55 L172.7,476.22 L173.8,476.36 L174.9,476.39 L176,476.05 L177.1,476.3 L178.2,476.64 L179.3,475.94 L180.4,475.48 L181.5,475.57 L182.6,475.08 L183.7,474.51 L184.8,473.53 L185.9,472.89 L187,473.6 L188.1,473.89 L189.2,473.51 L190.3,473.01 L191.4,472.1 L192.5,471.52 L193.6,472.12 L194.7,472.87 L195.8,471.96 L196.9,470.63 L198,470.09 L199.1,469.29 L200.2,468.9 L201.3,468.83 L202.4,467.49 L203.5,466.04 L204.6,465.98 L205.7,466.37 L206.8,466.56 L207.9,466.13 L209,465.17 L210.1,464.81 L211.2,463.99 L212.3,462.94 L213.4,462.39 L214.5,461.16 L215.6,459.94 L216.7,459.19 L217.8,457.93 L218.9,457.19 L220,456.92 L221.1,456.24 L222.2,455.31 L223.3,454.81 L224.4,454.82 L225.5,454.47 L226.6,453.55 L227.7,453.03 L228.8,452.38 L229.9,452.52 L231,453.51 L232.1,452.2 L233.2,450.53" fill="none" stroke="#404040" stroke-width="1.9" stroke-linejoin="round" stroke-linecap="round" />
<path d="M50,591.74 L51.1,590.82 L52.2,590.86 L53.3,590.91 L54.4,589.91 L55.5,589.27 L56.6,589.14 L57.7,588.61 L58.8,587.62 L59.9,587.45 L61,588.38 L62.1,589.08 L63.2,589.24 L64.3,589.16 L65.4,588.12 L66.5,586.78 L67.6,585.66 L68.7,584.52 L69.8,584.19 L70.9,584.48 L72,584.97 L73.1,584.78 L74.2,583.64 L75.3,582.45 L76.4,581.8 L77.5,582.05 L78.6,582.33 L79.7,581.7 L80.8,581.37 L81.9,582.01 L83,581.48 L84.1,579.76 L85.2,578.64 L86.3,578.32 L87.4,578.17 L88.5,577.93 L89.6,577.85 L90.7,577.87 L91.8,577.71 L92.9,576.8 L94,575.54 L95.1,574.67 L96.2,573.75 L97.3,573.68 L98.4,573.98 L99.5,573.57 L100.6,573.22 L101.7,572.34 L102.8,571.9 L103.9,571.95 L105,571.32 L106.1,570.68 L107.2,569.98 L108.3,569.39 L109.4,569.02 L110.5,569.27 L111.6,569.8 L112.7,569.77 L113.8,568.76 L114.9,567.15 L116,567.41 L117.1,568.11 L118.2,567.91 L119.3,568.11 L120.4,567.69 L121.5,566.94 L122.6,567.62 L123.7,568.29 L124.8,567.14 L125.9,565.8 L127,565.22 L128.1,564.57 L129.2,563.86 L130.3,564.64 L131.4,565.92 L132.5,565.39 L133.6,564.46 L134.7,564.51 L135.8,564.39 L136.9,563.93 L138,563.79 L139.1,562.98 L140.2,562.22 L141.3,561.45 L143,561.45 L143,483.4 L143,483.4 L144.1,481.34 L145.2,481.87 L146.3,481.42 L147.4,481.18 L148.5,480.92 L149.6,481.66 L150.7,483.06 L151.8,482.51 L152.9,481.77 L154,481.86 L155.1,481.6 L156.2,481.58 L157.3,481.93 L158.4,481.51 L159.5,480.56 L160.6,480.66 L161.7,480.38 L162.8,479.89 L163.9,480.11 L165,480.19 L166.1,480.61 L167.2,480.54 L168.3,479.87 L169.4,479.55 L170.5,478.71 L171.6,477.49 L172.7,477.3 L173.8,477.43 L174.9,477.34 L176,477.28 L177.1,476.77 L178.2,476.54 L179.3,477.6 L180.4,477.55 L181.5,475.66 L182.6,474.61 L183.7,474.73 L184.8,475.21 L185.9,474.48 L187,472.42 L188.1,471.22 L189.2,470.68 L190.3,469.9 L191.4,469.7 L192.5,469.86 L193.6,469.92 L194.7,470.52 L195.8,469.93 L196.9,468.05 L198,467.15 L199.1,467.68 L200.2,468.01 L201.3,466.64 L202.4,465.62 L203.5,466.15 L204.6,466.23 L205.7,466.12 L206.8,466.51 L207.9,466.11 L209,465.07 L210.1,464.21 L211.2,463.59 L212.3,462.4 L213.4,461.13 L214.5,460.73 L215.6,460.1 L216.7,459.44 L217.8,459.53 L218.9,460.09 L220,459.59 L221.1,458.91 L222.2,457.88 L223.3,455.61 L224.4,454.36 L225.5,455.21 L226.6,455.9 L227.7,455.52 L228.8,455.26 L229.9,454.28 L231,452.81 L232.1,453.2 L233.2,453.69" fill="none" stroke="#404040" stroke-width="1.9" stroke-linejoin="round" stroke-linecap="round" />
<rect x="37" y="438" width="210.4" height="169" fill="none" stroke="#303030" stroke-width="1.2" />
<line x1="37" y1="606" x2="34" y2="606" stroke="#303030" stroke-width="1" />
<text x="32.2" y="610.2" font-size="9.8" fill="#2a2a2a" stroke="#2a2a2a" stroke-width="0.22" text-anchor="end" >-3</text>
<line x1="37" y1="578" x2="34" y2="578" stroke="#303030" stroke-width="1" />
<text x="32.2" y="582.2" font-size="9.8" fill="#2a2a2a" stroke="#2a2a2a" stroke-width="0.22" text-anchor="end" >-2</text>
<line x1="37" y1="550" x2="34" y2="550" stroke="#303030" stroke-width="1" />
<text x="32.2" y="554.2" font-size="9.8" fill="#2a2a2a" stroke="#2a2a2a" stroke-width="0.22" text-anchor="end" >-1</text>
<line x1="37" y1="522" x2="34" y2="522" stroke="#303030" stroke-width="1" />
<text x="32.2" y="526.2" font-size="9.8" fill="#2a2a2a" stroke="#2a2a2a" stroke-width="0.22" text-anchor="end" >0</text>
<line x1="37" y1="494" x2="34" y2="494" stroke="#303030" stroke-width="1" />
<text x="32.2" y="498.2" font-size="9.8" fill="#2a2a2a" stroke="#2a2a2a" stroke-width="0.22" text-anchor="end" >1</text>
<line x1="37" y1="466" x2="34" y2="466" stroke="#303030" stroke-width="1" />
<text x="32.2" y="470.2" font-size="9.8" fill="#2a2a2a" stroke="#2a2a2a" stroke-width="0.22" text-anchor="end" >2</text>
<line x1="37" y1="438" x2="34" y2="438" stroke="#303030" stroke-width="1" />
<text x="32.2" y="442.2" font-size="9.8" fill="#2a2a2a" stroke="#2a2a2a" stroke-width="0.22" text-anchor="end" >3</text>
<line x1="37" y1="592" x2="35.4" y2="592" stroke="#303030" stroke-width="0.8" />
<line x1="37" y1="564" x2="35.4" y2="564" stroke="#303030" stroke-width="0.8" />
<line x1="37" y1="536" x2="35.4" y2="536" stroke="#303030" stroke-width="0.8" />
<line x1="37" y1="508" x2="35.4" y2="508" stroke="#303030" stroke-width="0.8" />
<line x1="37" y1="480" x2="35.4" y2="480" stroke="#303030" stroke-width="0.8" />
<line x1="37" y1="452" x2="35.4" y2="452" stroke="#303030" stroke-width="0.8" />
<line x1="37.2" y1="607" x2="37.2" y2="609.6" stroke="#303030" stroke-width="1" />
<text x="37.2" y="620" font-size="9.6" fill="#2a2a2a" stroke="#2a2a2a" stroke-width="0.22" text-anchor="middle" >-8</text>
<line x1="63.4" y1="607" x2="63.4" y2="609.6" stroke="#303030" stroke-width="1" />
<text x="63.4" y="620" font-size="9.6" fill="#2a2a2a" stroke="#2a2a2a" stroke-width="0.22" text-anchor="middle" >-6</text>
<line x1="89.6" y1="607" x2="89.6" y2="609.6" stroke="#303030" stroke-width="1" />
<text x="89.6" y="620" font-size="9.6" fill="#2a2a2a" stroke="#2a2a2a" stroke-width="0.22" text-anchor="middle" >-4</text>
<line x1="115.8" y1="607" x2="115.8" y2="609.6" stroke="#303030" stroke-width="1" />
<text x="115.8" y="620" font-size="9.6" fill="#2a2a2a" stroke="#2a2a2a" stroke-width="0.22" text-anchor="middle" >-2</text>
<line x1="142" y1="607" x2="142" y2="609.6" stroke="#303030" stroke-width="1" />
<text x="142" y="620" font-size="9.6" fill="#2a2a2a" stroke="#2a2a2a" stroke-width="0.22" text-anchor="middle" >0</text>
<line x1="168.2" y1="607" x2="168.2" y2="609.6" stroke="#303030" stroke-width="1" />
<text x="168.2" y="620" font-size="9.6" fill="#2a2a2a" stroke="#2a2a2a" stroke-width="0.22" text-anchor="middle" >2</text>
<line x1="194.4" y1="607" x2="194.4" y2="609.6" stroke="#303030" stroke-width="1" />
<text x="194.4" y="620" font-size="9.6" fill="#2a2a2a" stroke="#2a2a2a" stroke-width="0.22" text-anchor="middle" >4</text>
<line x1="220.6" y1="607" x2="220.6" y2="609.6" stroke="#303030" stroke-width="1" />
<text x="220.6" y="620" font-size="9.6" fill="#2a2a2a" stroke="#2a2a2a" stroke-width="0.22" text-anchor="middle" >6</text>
<line x1="246.8" y1="607" x2="246.8" y2="609.6" stroke="#303030" stroke-width="1" />
<text x="246.8" y="620" font-size="9.6" fill="#2a2a2a" stroke="#2a2a2a" stroke-width="0.22" text-anchor="middle" >8</text>
<line x1="50.3" y1="607" x2="50.3" y2="608.6" stroke="#303030" stroke-width="0.8" />
<line x1="76.5" y1="607" x2="76.5" y2="608.6" stroke="#303030" stroke-width="0.8" />
<line x1="102.7" y1="607" x2="102.7" y2="608.6" stroke="#303030" stroke-width="0.8" />
<line x1="128.9" y1="607" x2="128.9" y2="608.6" stroke="#303030" stroke-width="0.8" />
<line x1="155.1" y1="607" x2="155.1" y2="608.6" stroke="#303030" stroke-width="0.8" />
<line x1="181.3" y1="607" x2="181.3" y2="608.6" stroke="#303030" stroke-width="0.8" />
<line x1="207.5" y1="607" x2="207.5" y2="608.6" stroke="#303030" stroke-width="0.8" />
<line x1="233.7" y1="607" x2="233.7" y2="608.6" stroke="#303030" stroke-width="0.8" />
<text x="128.3" y="633" font-size="13.2" fill="#2a2a2a" stroke="#2a2a2a" stroke-width="0.22" xml:space="preserve"><tspan font-size="13.2" font-style="italic">H</tspan><tspan font-size="13.2"> (T)</tspan></text>
<text x="21.8" y="516.5" font-size="11.8" fill="#2a2a2a" stroke="#2a2a2a" stroke-width="0.22" text-anchor="middle" transform="rotate(-90 21.8 516.5)" xml:space="preserve"><tspan font-size="11.8" font-style="italic">ρ</tspan><tspan font-size="8.5" dy="3.3">Hall</tspan><tspan font-size="11.8" dy="-3.3"> (×10</tspan><tspan font-size="8.5" dy="-4.48">−4</tspan><tspan font-size="11.8" dy="4.48"> Ω·cm)</tspan></text>
<text x="44" y="458.9" font-size="17.6" fill="#2a2a2a" stroke="#2a2a2a" stroke-width="0.22" >(e)</text>
<text x="80" y="452.6" font-size="11.85" fill="#2a2a2a" stroke="#2a2a2a" stroke-width="0.22" xml:space="preserve"><tspan font-size="11.85">Rb(Zn</tspan><tspan font-size="8.53" dy="3.32">0.83</tspan><tspan font-size="11.85" dy="-3.32">Li</tspan><tspan font-size="8.53" dy="3.32">0.1</tspan><tspan font-size="11.85" dy="-3.32">Mn</tspan><tspan font-size="8.53" dy="3.32">0.07</tspan><tspan font-size="11.85" dy="-3.32">)</tspan><tspan font-size="8.53" dy="3.32">4</tspan><tspan font-size="11.85" dy="-3.32">As</tspan><tspan font-size="8.53" dy="3.32">3</tspan></text>
<line x1="47" y1="471.4" x2="72" y2="471.4" stroke="#444" stroke-width="2.4" />
<line x1="47" y1="485" x2="72" y2="485" stroke="#3b7fe0" stroke-width="2.4" />
<line x1="47" y1="498.6" x2="72" y2="498.6" stroke="#e83030" stroke-width="2.4" />
<line x1="47" y1="512" x2="72" y2="512" stroke="#b070e0" stroke-width="1.3" />
<text x="78.4" y="474.6" font-size="11" fill="#2a2a2a" stroke="#2a2a2a" stroke-width="0.22" xml:space="preserve"><tspan font-size="11" font-style="italic">T</tspan><tspan font-size="11"> = 10 K</tspan></text>
<text x="97.6" y="488.6" font-size="11" fill="#2a2a2a" stroke="#2a2a2a" stroke-width="0.22" >50 K</text>
<text x="97.6" y="502.2" font-size="11" fill="#2a2a2a" stroke="#2a2a2a" stroke-width="0.22" >70 K</text>
<text x="98" y="515.8" font-size="11" fill="#2a2a2a" stroke="#2a2a2a" stroke-width="0.22" >100 K</text>
<rect x="181.6" y="511.6" width="52.4" height="13.4" fill="none" stroke="#444" stroke-width="1.2" stroke-dasharray="4,2.4"/>
<path d="M163,568.49 L163.9,568.24 L164.79,567.92 L165.69,567.06 L166.59,566.9 L167.48,566.47 L168.38,566.77 L169.28,566.07 L170.17,565.43 L171.07,564.32 L171.97,564.56 L172.86,564.55 L173.76,565.22 L174.66,564.51 L175.55,564.29 L176.45,563.54 L177.35,563.22 L178.24,562.87 L179.14,562.13 L180.04,561.88 L180.93,561.55 L181.83,561.91 L182.73,561.9 L183.62,561.76 L184.52,560.94 L185.42,560.38 L186.31,559.62 L187.21,559.59 L188.11,559.34 L189,559.32 L189.9,558.87 L190.8,558.4 L191.69,558.29 L192.59,557.61 L193.49,557.49 L194.38,556.8 L195.28,556.83 L196.18,556.12 L197.07,556.39 L197.97,555.96 L198.87,556.1 L199.76,555.42 L200.66,554.96 L201.56,554.82 L202.45,554.87 L203.35,555.07 L204.24,554.45 L205.14,554.28 L206.04,553.72 L206.93,553.77 L207.83,553.3 L208.73,553.1 L209.62,552.42 L210.52,552 L211.42,551.73 L212.31,551.52 L213.21,551.14 L214.11,551.33 L215,551.12 L215.9,550.73 L216.8,549.57 L217.69,548.7 L218.59,548.27 L219.49,548.2 L220.38,548.58 L221.28,548.41 L222.18,547.95 L223.07,547.14 L223.97,547.06 L224.87,546.88 L225.76,546.68 L226.66,545.75 L227.56,545.44 L228.45,545.45 L229.35,545.73 L230.25,545.57 L231.14,545.29 L232.04,544.64 L232.94,544.01 L233.83,543.4 L234.73,543.01 L235.63,543.05 L236.52,542.83 L237.42,542.89 L238.32,542.47" fill="none" stroke="#3b7fe0" stroke-width="1.6" stroke-linejoin="round" stroke-linecap="round" />
<path d="M163,579.81 L163.9,579.75 L164.79,579.13 L165.69,578.17 L166.59,577.87 L167.48,577.62 L168.38,577.5 L169.28,577.42 L170.17,577.42 L171.07,577.47 L171.97,576.93 L172.86,577.05 L173.76,576.88 L174.66,576.44 L175.55,575.56 L176.45,574.82 L177.35,574.91 L178.24,574.53 L179.14,574.56 L180.04,574.56 L180.93,574.58 L181.83,574.57 L182.73,573.91 L183.62,573.87 L184.52,573.28 L185.42,573.11 L186.31,572.91 L187.21,572.73 L188.11,572.5 L189,572.29 L189.9,571.98 L190.8,571.9 L191.69,571.72 L192.59,571.89 L193.49,571.9 L194.38,571.65 L195.28,570.86 L196.18,570.5 L197.07,570.14 L197.97,570.58 L198.87,570.28 L199.76,569.7 L200.66,569 L201.56,568.77 L202.45,568.88 L203.35,569.03 L204.24,568.84 L205.14,568.81 L206.04,568.59 L206.93,568.11 L207.83,567.53 L208.73,566.97 L209.62,566.85 L210.52,567.06 L211.42,566.95 L212.31,566.89 L213.21,566.14 L214.11,565.77 L215,565.15 L215.9,565.2 L216.8,565.5 L217.69,565.22 L218.59,564.62 L219.49,564.31 L220.38,564.26 L221.28,564.04 L222.18,563.71 L223.07,563.1 L223.97,563.22 L224.87,562.98 L225.76,562.84 L226.66,562.45 L227.56,562.12 L228.45,562 L229.35,562.28 L230.25,561.48 L231.14,561.63 L232.04,560.88 L232.94,561.15 L233.83,560.63 L234.73,560.26 L235.63,560.12 L236.52,559.81 L237.42,559.84 L238.32,559.57" fill="none" stroke="#e83030" stroke-width="1.6" stroke-linejoin="round" stroke-linecap="round" />
<path d="M163,584.77 L163.9,584.51 L164.79,584.54 L165.69,585.06 L166.59,585.15 L167.48,584.69 L168.38,584.09 L169.28,583.95 L170.17,583.61 L171.07,583.84 L171.97,583.77 L172.86,583.81 L173.76,582.74 L174.66,582.19 L175.55,582.28 L176.45,582.48 L177.35,582.25 L178.24,581.64 L179.14,581.7 L180.04,581.87 L180.93,581.89 L181.83,581.53 L182.73,580.82 L183.62,580.2 L184.52,580.29 L185.42,580.61 L186.31,580.93 L187.21,580.65 L188.11,580.25 L189,579.96 L189.9,579.68 L190.8,579.31 L191.69,579.29 L192.59,579.42 L193.49,579.92 L194.38,579.95 L195.28,579.78 L196.18,579.68 L197.07,579.13 L197.97,578.68 L198.87,578.18 L199.76,578.36 L200.66,578.6 L201.56,578.54 L202.45,577.75 L203.35,577.73 L204.24,577.32 L205.14,577.4 L206.04,576.7 L206.93,576.63 L207.83,576.46 L208.73,576.57 L209.62,576.21 L210.52,575.89 L211.42,575.71 L212.31,575.85 L213.21,575.98 L214.11,575.35 L215,574.69 L215.9,574.39 L216.8,574.61 L217.69,575 L218.59,574.93 L219.49,574.52 L220.38,574.35 L221.28,574.22 L222.18,574.07 L223.07,573.41 L223.97,573.48 L224.87,573.26 L225.76,573.6 L226.66,573.3 L227.56,573.28 L228.45,572.5 L229.35,571.48 L230.25,571.23 L231.14,571.3 L232.04,571.65 L232.94,571.85 L233.83,571.62 L234.73,571.97 L235.63,571.12 L236.52,570.8 L237.42,570.23 L238.32,570.62" fill="none" stroke="#b070e0" stroke-width="1.6" stroke-linejoin="round" stroke-linecap="round" />
<rect x="163" y="533.6" width="76" height="62.8" fill="none" stroke="#555" stroke-width="1.0" />
<line x1="163" y1="596.4" x2="164.5" y2="596.4" stroke="#555" stroke-width="0.8" />
<text x="161.5" y="598.4" font-size="6" fill="#555" stroke="#555" stroke-width="0.22" text-anchor="end" >0.0</text>
<line x1="163" y1="567.9" x2="164.5" y2="567.9" stroke="#555" stroke-width="0.8" />
<text x="161.5" y="569.9" font-size="6" fill="#555" stroke="#555" stroke-width="0.22" text-anchor="end" >0.1</text>
<line x1="163" y1="539.4" x2="164.5" y2="539.4" stroke="#555" stroke-width="0.8" />
<text x="161.5" y="541.4" font-size="6" fill="#555" stroke="#555" stroke-width="0.22" text-anchor="end" >0.2</text>
<line x1="182" y1="596.4" x2="182" y2="594.9" stroke="#555" stroke-width="0.8" />
<text x="182" y="603.4" font-size="6" fill="#555" stroke="#555" stroke-width="0.22" text-anchor="middle" >4</text>
<line x1="220" y1="596.4" x2="220" y2="594.9" stroke="#555" stroke-width="0.8" />
<text x="220" y="603.4" font-size="6" fill="#555" stroke="#555" stroke-width="0.22" text-anchor="middle" >6</text></svg>
</body></html>
